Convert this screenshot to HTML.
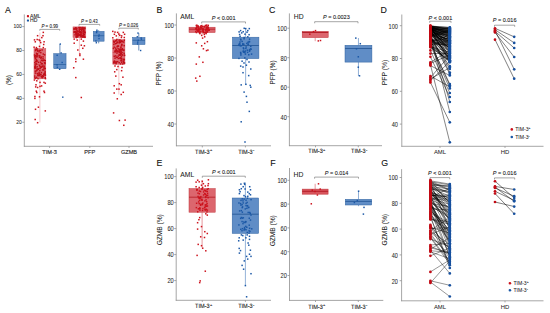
<!DOCTYPE html>
<html><head><meta charset="utf-8"><style>
html,body{margin:0;padding:0;background:#fff;}
.wrap{position:relative;width:550px;height:313px;overflow:hidden;background:#fff;}
svg{position:absolute;left:0;top:0;display:block;font-family:"Liberation Sans",sans-serif;text-rendering:geometricPrecision;}
svg.g{filter:blur(0.3px);}
svg.t{text-rendering:optimizeLegibility;}
</style></head><body><div class="wrap">
<svg class="g" width="550" height="313" viewBox="0 0 550 313">
<rect width="550" height="313" fill="#fff"/>
<line x1="24.3" y1="14.4" x2="24.3" y2="146.7" stroke="#8f8f8f" stroke-width="0.8" />
<line x1="23.9" y1="146.3" x2="153" y2="146.3" stroke="#8f8f8f" stroke-width="0.8" />
<line x1="22.3" y1="26.6" x2="24.3" y2="26.6" stroke="#8f8f8f" stroke-width="0.8" />
<line x1="22.3" y1="50.52" x2="24.3" y2="50.52" stroke="#8f8f8f" stroke-width="0.8" />
<line x1="22.3" y1="74.44" x2="24.3" y2="74.44" stroke="#8f8f8f" stroke-width="0.8" />
<line x1="22.3" y1="98.36" x2="24.3" y2="98.36" stroke="#8f8f8f" stroke-width="0.8" />
<line x1="22.3" y1="122.28" x2="24.3" y2="122.28" stroke="#8f8f8f" stroke-width="0.8" />
<line x1="49.6" y1="146.3" x2="49.6" y2="147.9" stroke="#8f8f8f" stroke-width="0.8" />
<line x1="89.8" y1="146.3" x2="89.8" y2="147.9" stroke="#8f8f8f" stroke-width="0.8" />
<line x1="129" y1="146.3" x2="129" y2="147.9" stroke="#8f8f8f" stroke-width="0.8" />
<rect x="26.9" y="15.1" width="2.1" height="2.2" rx="0.6" fill="#cc121c"/>
<rect x="26.9" y="19.4" width="2.1" height="2.2" rx="0.6" fill="#1b58a6"/>
<path d="M39.8,30.7V29.4H59.7V30.7" fill="none" stroke="#6a6a6a" stroke-width="0.6"/>
<path d="M79,25.7V24.4H99.7V25.7" fill="none" stroke="#6a6a6a" stroke-width="0.6"/>
<path d="M118.8,29.5V28.2H138.3V29.5" fill="none" stroke="#6a6a6a" stroke-width="0.6"/>
<line x1="39.9" y1="32.6" x2="39.9" y2="48.7" stroke="#eda0a4" stroke-width="0.6" />
<line x1="39.9" y1="78.8" x2="39.9" y2="122.4" stroke="#eda0a4" stroke-width="0.6" />
<rect x="34" y="48.7" width="11.8" height="30.1" fill="#dc6e76" stroke="#cc4a52" stroke-width="0.5"/>
<line x1="34" y1="64.5" x2="45.8" y2="64.5" stroke="#cc4a52" stroke-width="0.8" />
<g fill="#c0101a"><rect x="38.75" y="64.82" width="1.45" height="1.45"/><rect x="43.94" y="61.99" width="1.45" height="1.45"/><rect x="39.36" y="65.66" width="1.45" height="1.45"/><rect x="35.81" y="63.38" width="1.45" height="1.45"/><rect x="40.7" y="71.84" width="1.45" height="1.45"/><rect x="34.81" y="57.11" width="1.45" height="1.45"/><rect x="34.77" y="72.35" width="1.45" height="1.45"/><rect x="41.4" y="49.24" width="1.45" height="1.45"/><rect x="44.58" y="77.01" width="1.45" height="1.45"/><rect x="40.97" y="66.5" width="1.45" height="1.45"/><rect x="35.51" y="48.43" width="1.45" height="1.45"/><rect x="39.59" y="49.77" width="1.45" height="1.45"/><rect x="35.87" y="55.26" width="1.45" height="1.45"/><rect x="34.11" y="61.94" width="1.45" height="1.45"/><rect x="38.62" y="73.33" width="1.45" height="1.45"/><rect x="39.49" y="67.25" width="1.45" height="1.45"/><rect x="39.27" y="67.91" width="1.45" height="1.45"/><rect x="38.81" y="56.35" width="1.45" height="1.45"/><rect x="44.75" y="77.95" width="1.45" height="1.45"/><rect x="43.02" y="69.28" width="1.45" height="1.45"/><rect x="37.24" y="54.89" width="1.45" height="1.45"/><rect x="36.95" y="50.09" width="1.45" height="1.45"/><rect x="42.2" y="60.03" width="1.45" height="1.45"/><rect x="43.09" y="59.61" width="1.45" height="1.45"/><rect x="44.31" y="73.48" width="1.45" height="1.45"/><rect x="33.78" y="54.29" width="1.45" height="1.45"/><rect x="43.79" y="62.12" width="1.45" height="1.45"/><rect x="44.56" y="59.94" width="1.45" height="1.45"/><rect x="34.58" y="66.92" width="1.45" height="1.45"/><rect x="42.34" y="56.1" width="1.45" height="1.45"/><rect x="34.73" y="57.99" width="1.45" height="1.45"/><rect x="44.38" y="70.79" width="1.45" height="1.45"/><rect x="35.07" y="55.39" width="1.45" height="1.45"/><rect x="34.89" y="49.78" width="1.45" height="1.45"/><rect x="42.54" y="53.32" width="1.45" height="1.45"/><rect x="39.93" y="61.44" width="1.45" height="1.45"/><rect x="35.87" y="70.01" width="1.45" height="1.45"/><rect x="35.22" y="67.35" width="1.45" height="1.45"/><rect x="35.06" y="60.64" width="1.45" height="1.45"/><rect x="36.12" y="56.1" width="1.45" height="1.45"/><rect x="44.46" y="72.16" width="1.45" height="1.45"/><rect x="37.12" y="74.61" width="1.45" height="1.45"/><rect x="36.09" y="59.84" width="1.45" height="1.45"/><rect x="43.17" y="67.29" width="1.45" height="1.45"/><rect x="34.88" y="77.75" width="1.45" height="1.45"/><rect x="36.12" y="55.75" width="1.45" height="1.45"/><rect x="42.27" y="57.88" width="1.45" height="1.45"/><rect x="37.03" y="50.18" width="1.45" height="1.45"/><rect x="34.77" y="65.52" width="1.45" height="1.45"/><rect x="36.45" y="66.07" width="1.45" height="1.45"/><rect x="37.86" y="61.62" width="1.45" height="1.45"/><rect x="44.33" y="62.54" width="1.45" height="1.45"/><rect x="40.1" y="74.06" width="1.45" height="1.45"/><rect x="35.79" y="52.61" width="1.45" height="1.45"/><rect x="43.77" y="72.59" width="1.45" height="1.45"/><rect x="36.52" y="53.69" width="1.45" height="1.45"/><rect x="41.91" y="76.28" width="1.45" height="1.45"/><rect x="35.94" y="76.57" width="1.45" height="1.45"/><rect x="43.48" y="66.14" width="1.45" height="1.45"/><rect x="38.41" y="51.1" width="1.45" height="1.45"/><rect x="34.2" y="76.95" width="1.45" height="1.45"/><rect x="36.4" y="69.18" width="1.45" height="1.45"/><rect x="36.6" y="72.77" width="1.45" height="1.45"/><rect x="40.34" y="56.81" width="1.45" height="1.45"/><rect x="35.7" y="69.66" width="1.45" height="1.45"/><rect x="34.53" y="54.85" width="1.45" height="1.45"/><rect x="39.93" y="73.63" width="1.45" height="1.45"/><rect x="40.53" y="56.41" width="1.45" height="1.45"/><rect x="43.87" y="54.11" width="1.45" height="1.45"/><rect x="33.96" y="56.08" width="1.45" height="1.45"/><rect x="38.68" y="49.79" width="1.45" height="1.45"/><rect x="35.71" y="59.08" width="1.45" height="1.45"/><rect x="40.07" y="51.94" width="1.45" height="1.45"/><rect x="37.76" y="74.79" width="1.45" height="1.45"/><rect x="44.56" y="67.75" width="1.45" height="1.45"/><rect x="41.38" y="65.57" width="1.45" height="1.45"/><rect x="35.32" y="49.03" width="1.45" height="1.45"/><rect x="33.97" y="75.37" width="1.45" height="1.45"/><rect x="41.49" y="76.95" width="1.45" height="1.45"/><rect x="34.01" y="67.12" width="1.45" height="1.45"/><rect x="39.08" y="69.96" width="1.45" height="1.45"/><rect x="37.28" y="78.06" width="1.45" height="1.45"/><rect x="34.6" y="64.41" width="1.45" height="1.45"/><rect x="41.88" y="75.07" width="1.45" height="1.45"/><rect x="41.88" y="69.16" width="1.45" height="1.45"/><rect x="42.5" y="75.52" width="1.45" height="1.45"/><rect x="37.65" y="68.6" width="1.45" height="1.45"/><rect x="43.68" y="74.2" width="1.45" height="1.45"/><rect x="38.36" y="71.77" width="1.45" height="1.45"/><rect x="43.27" y="65.22" width="1.45" height="1.45"/><rect x="40.65" y="59.48" width="1.45" height="1.45"/><rect x="40.18" y="66.3" width="1.45" height="1.45"/><rect x="34.66" y="67.22" width="1.45" height="1.45"/><rect x="44.7" y="74.46" width="1.45" height="1.45"/><rect x="41.79" y="59.67" width="1.45" height="1.45"/><rect x="41.86" y="65.46" width="1.45" height="1.45"/><rect x="38.62" y="73.21" width="1.45" height="1.45"/><rect x="34.7" y="70.56" width="1.45" height="1.45"/><rect x="34.1" y="66.07" width="1.45" height="1.45"/><rect x="39.07" y="54.9" width="1.45" height="1.45"/><rect x="41.46" y="62.94" width="1.45" height="1.45"/><rect x="40.53" y="75.68" width="1.45" height="1.45"/><rect x="36.59" y="48.32" width="1.45" height="1.45"/><rect x="37.09" y="68.39" width="1.45" height="1.45"/><rect x="36" y="53.08" width="1.45" height="1.45"/><rect x="43.74" y="67.84" width="1.45" height="1.45"/><rect x="38.64" y="74.82" width="1.45" height="1.45"/><rect x="37.37" y="68.02" width="1.45" height="1.45"/><rect x="35.96" y="60.94" width="1.45" height="1.45"/><rect x="42.64" y="75.49" width="1.45" height="1.45"/><rect x="43.46" y="59.55" width="1.45" height="1.45"/><rect x="40.19" y="57.5" width="1.45" height="1.45"/><rect x="35.27" y="62.92" width="1.45" height="1.45"/><rect x="42.98" y="73.52" width="1.45" height="1.45"/><rect x="41.6" y="76.57" width="1.45" height="1.45"/><rect x="36.82" y="53.07" width="1.45" height="1.45"/><rect x="38.73" y="56.26" width="1.45" height="1.45"/><rect x="36.13" y="60.44" width="1.45" height="1.45"/><rect x="40.66" y="62.84" width="1.45" height="1.45"/><rect x="37.24" y="73.23" width="1.45" height="1.45"/></g>
<g fill="#cc121c"><rect x="42.55" y="31.65" width="1.5" height="1.5"/><rect x="36.85" y="34.95" width="1.5" height="1.5"/><rect x="42.25" y="34.95" width="1.5" height="1.5"/><rect x="41.05" y="36.85" width="1.5" height="1.5"/><rect x="33.75" y="39.15" width="1.5" height="1.5"/><rect x="36.45" y="38.75" width="1.5" height="1.5"/><rect x="38.35" y="39.15" width="1.5" height="1.5"/><rect x="39.15" y="39.95" width="1.5" height="1.5"/><rect x="34.55" y="41.05" width="1.5" height="1.5"/><rect x="39.95" y="41.85" width="1.5" height="1.5"/><rect x="43.35" y="41.05" width="1.5" height="1.5"/><rect x="42.95" y="43.75" width="1.5" height="1.5"/><rect x="33.35" y="46.45" width="1.5" height="1.5"/><rect x="38.75" y="45.65" width="1.5" height="1.5"/><rect x="35.65" y="46.85" width="1.5" height="1.5"/><rect x="42.55" y="46.85" width="1.5" height="1.5"/><rect x="33.65" y="79.25" width="1.5" height="1.5"/><rect x="36.05" y="80.05" width="1.5" height="1.5"/><rect x="39.25" y="81.65" width="1.5" height="1.5"/><rect x="43.25" y="81.65" width="1.5" height="1.5"/><rect x="44.55" y="82.45" width="1.5" height="1.5"/><rect x="35.25" y="84.05" width="1.5" height="1.5"/><rect x="34.95" y="86.15" width="1.5" height="1.5"/><rect x="36.85" y="86.75" width="1.5" height="1.5"/><rect x="39.25" y="85.65" width="1.5" height="1.5"/><rect x="40.85" y="85.15" width="1.5" height="1.5"/><rect x="35.55" y="90.45" width="1.5" height="1.5"/><rect x="36.05" y="91.75" width="1.5" height="1.5"/><rect x="43.25" y="90.45" width="1.5" height="1.5"/><rect x="43.75" y="91.75" width="1.5" height="1.5"/><rect x="34.15" y="95.75" width="1.5" height="1.5"/><rect x="34.15" y="97.65" width="1.5" height="1.5"/><rect x="38.75" y="96.05" width="1.5" height="1.5"/><rect x="34.75" y="108.55" width="1.5" height="1.5"/><rect x="37.65" y="106.45" width="1.5" height="1.5"/><rect x="44.55" y="110.15" width="1.5" height="1.5"/><rect x="34.45" y="118.75" width="1.5" height="1.5"/><rect x="36.85" y="121.95" width="1.5" height="1.5"/></g>
<line x1="59.9" y1="44.06" x2="59.9" y2="53.63" stroke="#2f62a0" stroke-width="0.7" />
<line x1="59.9" y1="68.7" x2="59.9" y2="69.66" stroke="#2f62a0" stroke-width="0.7" />
<rect x="53.75" y="53.63" width="12.3" height="15.07" fill="#608dc6" fill-opacity="1.0" stroke="#2f62a0" stroke-width="0.5"/>
<line x1="53.75" y1="64.51" x2="66.05" y2="64.51" stroke="#2f62a0" stroke-width="0.8" />
<g fill="#1b58a6" fill-opacity="1.0"><rect x="62.09" y="96.46" width="1.4" height="1.4"/><rect x="58.91" y="68.6" width="1.4" height="1.4"/><rect x="56.65" y="66.56" width="1.4" height="1.4"/><rect x="56.39" y="64.17" width="1.4" height="1.4"/><rect x="61.44" y="61.78" width="1.4" height="1.4"/><rect x="56.45" y="54.6" width="1.4" height="1.4"/><rect x="60.45" y="52.21" width="1.4" height="1.4"/><rect x="59.62" y="43.36" width="1.4" height="1.4"/></g>
<line x1="79.4" y1="37.6" x2="79.4" y2="55.5" stroke="#eda0a4" stroke-width="0.6" />
<rect x="73" y="26.9" width="12.8" height="10.7" fill="#dc6e76" stroke="#cc4a52" stroke-width="0.5"/>
<line x1="73" y1="31.5" x2="85.8" y2="31.5" stroke="#cc4a52" stroke-width="0.8" />
<g fill="#c0101a"><rect x="76.64" y="34.73" width="1.45" height="1.45"/><rect x="73.39" y="27.97" width="1.45" height="1.45"/><rect x="78.27" y="26.83" width="1.45" height="1.45"/><rect x="82.47" y="29.02" width="1.45" height="1.45"/><rect x="74.75" y="27.06" width="1.45" height="1.45"/><rect x="80.22" y="31.17" width="1.45" height="1.45"/><rect x="80.23" y="33.32" width="1.45" height="1.45"/><rect x="82.22" y="36.45" width="1.45" height="1.45"/><rect x="80.84" y="28.63" width="1.45" height="1.45"/><rect x="78.5" y="28.42" width="1.45" height="1.45"/><rect x="73.3" y="31.44" width="1.45" height="1.45"/><rect x="81.17" y="28.42" width="1.45" height="1.45"/><rect x="76.23" y="30.14" width="1.45" height="1.45"/><rect x="80.98" y="31.94" width="1.45" height="1.45"/><rect x="80.06" y="34.36" width="1.45" height="1.45"/><rect x="77.58" y="34.73" width="1.45" height="1.45"/><rect x="83.32" y="27.47" width="1.45" height="1.45"/><rect x="83.62" y="34.02" width="1.45" height="1.45"/><rect x="74.63" y="31.25" width="1.45" height="1.45"/><rect x="80.18" y="35.95" width="1.45" height="1.45"/><rect x="77.4" y="32.43" width="1.45" height="1.45"/><rect x="83.02" y="34.78" width="1.45" height="1.45"/><rect x="83.75" y="31.35" width="1.45" height="1.45"/><rect x="80.47" y="28.69" width="1.45" height="1.45"/><rect x="81.26" y="35" width="1.45" height="1.45"/><rect x="80.36" y="33.97" width="1.45" height="1.45"/><rect x="75.56" y="35.84" width="1.45" height="1.45"/><rect x="84.16" y="36.64" width="1.45" height="1.45"/><rect x="79.19" y="34.72" width="1.45" height="1.45"/><rect x="76.76" y="35.95" width="1.45" height="1.45"/><rect x="82.76" y="30.16" width="1.45" height="1.45"/><rect x="74.1" y="31.12" width="1.45" height="1.45"/><rect x="79.34" y="34.49" width="1.45" height="1.45"/><rect x="78.63" y="26.87" width="1.45" height="1.45"/><rect x="82.24" y="27.23" width="1.45" height="1.45"/><rect x="82.13" y="28.36" width="1.45" height="1.45"/><rect x="76.93" y="34.69" width="1.45" height="1.45"/><rect x="74.75" y="28.11" width="1.45" height="1.45"/><rect x="78.96" y="34.03" width="1.45" height="1.45"/><rect x="82.58" y="33.68" width="1.45" height="1.45"/><rect x="83.77" y="31.65" width="1.45" height="1.45"/><rect x="83.81" y="27.46" width="1.45" height="1.45"/><rect x="75.65" y="32" width="1.45" height="1.45"/><rect x="76.42" y="34.08" width="1.45" height="1.45"/><rect x="80.33" y="31.96" width="1.45" height="1.45"/><rect x="82.62" y="32.34" width="1.45" height="1.45"/><rect x="76.67" y="30.5" width="1.45" height="1.45"/><rect x="82.64" y="35.85" width="1.45" height="1.45"/><rect x="75.51" y="35.34" width="1.45" height="1.45"/><rect x="84.02" y="31.97" width="1.45" height="1.45"/><rect x="79.59" y="28.64" width="1.45" height="1.45"/><rect x="79.18" y="31.76" width="1.45" height="1.45"/><rect x="79.95" y="26.86" width="1.45" height="1.45"/><rect x="84.03" y="31.89" width="1.45" height="1.45"/><rect x="77.66" y="34.83" width="1.45" height="1.45"/><rect x="79.48" y="31.63" width="1.45" height="1.45"/><rect x="80.91" y="27.25" width="1.45" height="1.45"/><rect x="79.21" y="30.84" width="1.45" height="1.45"/><rect x="83.89" y="36.09" width="1.45" height="1.45"/><rect x="76.19" y="31.45" width="1.45" height="1.45"/><rect x="74.6" y="31.04" width="1.45" height="1.45"/><rect x="82.31" y="35.85" width="1.45" height="1.45"/><rect x="78.51" y="29.84" width="1.45" height="1.45"/><rect x="75.32" y="32.94" width="1.45" height="1.45"/><rect x="83.54" y="27.91" width="1.45" height="1.45"/><rect x="81.9" y="26.81" width="1.45" height="1.45"/><rect x="75.35" y="28.92" width="1.45" height="1.45"/><rect x="80.87" y="29.89" width="1.45" height="1.45"/><rect x="77.15" y="32.96" width="1.45" height="1.45"/><rect x="74.35" y="34.1" width="1.45" height="1.45"/><rect x="74.55" y="31.83" width="1.45" height="1.45"/><rect x="75.98" y="28.61" width="1.45" height="1.45"/><rect x="79.11" y="31.07" width="1.45" height="1.45"/><rect x="77.38" y="30.83" width="1.45" height="1.45"/><rect x="79.1" y="28.22" width="1.45" height="1.45"/><rect x="75.46" y="33.08" width="1.45" height="1.45"/><rect x="80.33" y="32.03" width="1.45" height="1.45"/><rect x="82.71" y="32.88" width="1.45" height="1.45"/><rect x="82.77" y="28.97" width="1.45" height="1.45"/><rect x="81.47" y="34.92" width="1.45" height="1.45"/><rect x="83.28" y="29.83" width="1.45" height="1.45"/><rect x="76.7" y="36.08" width="1.45" height="1.45"/><rect x="75.62" y="36.86" width="1.45" height="1.45"/><rect x="83.12" y="27.95" width="1.45" height="1.45"/><rect x="75.86" y="34.06" width="1.45" height="1.45"/><rect x="76.08" y="27.57" width="1.45" height="1.45"/><rect x="82.5" y="30.92" width="1.45" height="1.45"/><rect x="82.02" y="27.87" width="1.45" height="1.45"/><rect x="77.69" y="33.63" width="1.45" height="1.45"/><rect x="73.37" y="28.64" width="1.45" height="1.45"/><rect x="80.82" y="35.96" width="1.45" height="1.45"/><rect x="84.02" y="27.76" width="1.45" height="1.45"/><rect x="78.84" y="34.38" width="1.45" height="1.45"/><rect x="78.81" y="33.64" width="1.45" height="1.45"/><rect x="75.29" y="27.3" width="1.45" height="1.45"/></g>
<g fill="#cc121c"><rect x="73.45" y="38.35" width="1.5" height="1.5"/><rect x="76.45" y="39.35" width="1.5" height="1.5"/><rect x="80.55" y="38.35" width="1.5" height="1.5"/><rect x="82.65" y="40.35" width="1.5" height="1.5"/><rect x="73.45" y="42.45" width="1.5" height="1.5"/><rect x="80.55" y="44.45" width="1.5" height="1.5"/><rect x="83.65" y="45.05" width="1.5" height="1.5"/><rect x="82.05" y="47.55" width="1.5" height="1.5"/><rect x="77.05" y="49.25" width="1.5" height="1.5"/><rect x="79.15" y="53.25" width="1.5" height="1.5"/><rect x="79.15" y="54.75" width="1.5" height="1.5"/><rect x="75.05" y="58.25" width="1.5" height="1.5"/><rect x="75.05" y="60.85" width="1.5" height="1.5"/><rect x="82.65" y="58.45" width="1.5" height="1.5"/><rect x="72.95" y="67.05" width="1.5" height="1.5"/><rect x="75.05" y="76.85" width="1.5" height="1.5"/><rect x="80.55" y="96.75" width="1.5" height="1.5"/></g>
<line x1="98.7" y1="30.19" x2="98.7" y2="31.38" stroke="#2f62a0" stroke-width="0.7" />
<line x1="98.7" y1="41.19" x2="98.7" y2="43.34" stroke="#2f62a0" stroke-width="0.7" />
<rect x="93.3" y="31.38" width="10.8" height="9.81" fill="#608dc6" fill-opacity="1.0" stroke="#2f62a0" stroke-width="0.5"/>
<line x1="93.3" y1="35.69" x2="104.1" y2="35.69" stroke="#2f62a0" stroke-width="0.8" />
<g fill="#1b58a6" fill-opacity="1.0"><rect x="95.64" y="42.05" width="1.4" height="1.4"/><rect x="95.22" y="40.25" width="1.4" height="1.4"/><rect x="98.31" y="37.86" width="1.4" height="1.4"/><rect x="98.09" y="35.47" width="1.4" height="1.4"/><rect x="98.41" y="34.27" width="1.4" height="1.4"/><rect x="95.88" y="31.88" width="1.4" height="1.4"/><rect x="96.11" y="30.68" width="1.4" height="1.4"/><rect x="96.22" y="29.49" width="1.4" height="1.4"/></g>
<line x1="118.85" y1="31.4" x2="118.85" y2="39.7" stroke="#eda0a4" stroke-width="0.6" />
<line x1="118.85" y1="64.2" x2="118.85" y2="94.5" stroke="#eda0a4" stroke-width="0.6" />
<rect x="112.8" y="39.7" width="12.1" height="24.5" fill="#dc6e76" stroke="#cc4a52" stroke-width="0.5"/>
<line x1="112.8" y1="52.5" x2="124.9" y2="52.5" stroke="#cc4a52" stroke-width="0.8" />
<g fill="#c0101a"><rect x="121.99" y="63.24" width="1.45" height="1.45"/><rect x="122.96" y="41.31" width="1.45" height="1.45"/><rect x="113.27" y="62.29" width="1.45" height="1.45"/><rect x="117.75" y="57.71" width="1.45" height="1.45"/><rect x="116.24" y="50.42" width="1.45" height="1.45"/><rect x="118.35" y="49.51" width="1.45" height="1.45"/><rect x="119.31" y="39.3" width="1.45" height="1.45"/><rect x="120.43" y="59.66" width="1.45" height="1.45"/><rect x="114.61" y="50.1" width="1.45" height="1.45"/><rect x="120.86" y="48.9" width="1.45" height="1.45"/><rect x="114.76" y="43.02" width="1.45" height="1.45"/><rect x="118.32" y="39.35" width="1.45" height="1.45"/><rect x="122.58" y="58.62" width="1.45" height="1.45"/><rect x="120.47" y="60.06" width="1.45" height="1.45"/><rect x="119.62" y="48.89" width="1.45" height="1.45"/><rect x="119.29" y="51.33" width="1.45" height="1.45"/><rect x="123.58" y="58.69" width="1.45" height="1.45"/><rect x="115.47" y="61.3" width="1.45" height="1.45"/><rect x="120.91" y="58.04" width="1.45" height="1.45"/><rect x="121.7" y="48.91" width="1.45" height="1.45"/><rect x="122.62" y="60.53" width="1.45" height="1.45"/><rect x="120.36" y="57.77" width="1.45" height="1.45"/><rect x="121.15" y="48.92" width="1.45" height="1.45"/><rect x="120.67" y="40.7" width="1.45" height="1.45"/><rect x="116.4" y="50.46" width="1.45" height="1.45"/><rect x="112.69" y="47.69" width="1.45" height="1.45"/><rect x="119.73" y="54.26" width="1.45" height="1.45"/><rect x="115.17" y="62.12" width="1.45" height="1.45"/><rect x="120.04" y="47.25" width="1.45" height="1.45"/><rect x="119.96" y="52.93" width="1.45" height="1.45"/><rect x="118.55" y="48.52" width="1.45" height="1.45"/><rect x="123.77" y="54.71" width="1.45" height="1.45"/><rect x="120.43" y="57.64" width="1.45" height="1.45"/><rect x="123.55" y="39.53" width="1.45" height="1.45"/><rect x="119.47" y="57.08" width="1.45" height="1.45"/><rect x="115.45" y="48.81" width="1.45" height="1.45"/><rect x="113.14" y="43.76" width="1.45" height="1.45"/><rect x="116.78" y="41.39" width="1.45" height="1.45"/><rect x="115.38" y="61.16" width="1.45" height="1.45"/><rect x="118.74" y="51.42" width="1.45" height="1.45"/><rect x="123.41" y="52.89" width="1.45" height="1.45"/><rect x="123.72" y="54.61" width="1.45" height="1.45"/><rect x="121.64" y="40.84" width="1.45" height="1.45"/><rect x="119.27" y="57.58" width="1.45" height="1.45"/><rect x="113.08" y="61.76" width="1.45" height="1.45"/><rect x="114.37" y="50.53" width="1.45" height="1.45"/><rect x="114.47" y="51.12" width="1.45" height="1.45"/><rect x="119.42" y="40.41" width="1.45" height="1.45"/><rect x="123.16" y="49.28" width="1.45" height="1.45"/><rect x="118.47" y="53.62" width="1.45" height="1.45"/><rect x="116.67" y="45.98" width="1.45" height="1.45"/><rect x="119.91" y="52.71" width="1.45" height="1.45"/><rect x="115.75" y="56.53" width="1.45" height="1.45"/><rect x="115.89" y="39.32" width="1.45" height="1.45"/><rect x="115.32" y="40.02" width="1.45" height="1.45"/><rect x="114.33" y="57.46" width="1.45" height="1.45"/><rect x="116.94" y="60.96" width="1.45" height="1.45"/><rect x="120.96" y="40.2" width="1.45" height="1.45"/><rect x="123.65" y="62.11" width="1.45" height="1.45"/><rect x="113.4" y="61.16" width="1.45" height="1.45"/><rect x="117.39" y="50.68" width="1.45" height="1.45"/><rect x="123.47" y="44.95" width="1.45" height="1.45"/><rect x="118.44" y="61.94" width="1.45" height="1.45"/><rect x="120.67" y="50.45" width="1.45" height="1.45"/><rect x="123.54" y="58.98" width="1.45" height="1.45"/><rect x="119.34" y="41.79" width="1.45" height="1.45"/><rect x="119.57" y="50.14" width="1.45" height="1.45"/><rect x="114.86" y="40.25" width="1.45" height="1.45"/><rect x="118.49" y="42.02" width="1.45" height="1.45"/><rect x="117.54" y="55.34" width="1.45" height="1.45"/><rect x="117.68" y="45.4" width="1.45" height="1.45"/><rect x="119.1" y="49.25" width="1.45" height="1.45"/><rect x="121.29" y="51.98" width="1.45" height="1.45"/><rect x="123.75" y="62.31" width="1.45" height="1.45"/><rect x="120.8" y="44.82" width="1.45" height="1.45"/><rect x="113.85" y="60.85" width="1.45" height="1.45"/><rect x="121.36" y="54.29" width="1.45" height="1.45"/><rect x="116.6" y="45.63" width="1.45" height="1.45"/><rect x="120.25" y="52.81" width="1.45" height="1.45"/><rect x="119.2" y="54.49" width="1.45" height="1.45"/><rect x="121.01" y="43.63" width="1.45" height="1.45"/><rect x="115.36" y="62.98" width="1.45" height="1.45"/><rect x="122.83" y="60.51" width="1.45" height="1.45"/><rect x="113.02" y="40.46" width="1.45" height="1.45"/><rect x="115.61" y="49.39" width="1.45" height="1.45"/><rect x="119.56" y="41.49" width="1.45" height="1.45"/><rect x="118.64" y="40.75" width="1.45" height="1.45"/><rect x="113.54" y="55.54" width="1.45" height="1.45"/><rect x="118.74" y="54.44" width="1.45" height="1.45"/><rect x="116.75" y="50.7" width="1.45" height="1.45"/><rect x="114.93" y="47.4" width="1.45" height="1.45"/><rect x="120.92" y="59.52" width="1.45" height="1.45"/><rect x="113.41" y="41.91" width="1.45" height="1.45"/><rect x="121.64" y="54.26" width="1.45" height="1.45"/><rect x="121.19" y="44.2" width="1.45" height="1.45"/><rect x="117.33" y="45.3" width="1.45" height="1.45"/><rect x="121.65" y="48.01" width="1.45" height="1.45"/><rect x="119.9" y="63.21" width="1.45" height="1.45"/><rect x="116.22" y="52.42" width="1.45" height="1.45"/><rect x="120.93" y="61.54" width="1.45" height="1.45"/><rect x="117.36" y="48.02" width="1.45" height="1.45"/><rect x="113.66" y="60.42" width="1.45" height="1.45"/><rect x="113.45" y="41.01" width="1.45" height="1.45"/><rect x="118.89" y="50.85" width="1.45" height="1.45"/><rect x="120.25" y="46.3" width="1.45" height="1.45"/><rect x="121.26" y="40.84" width="1.45" height="1.45"/><rect x="114.96" y="55.2" width="1.45" height="1.45"/><rect x="113.49" y="46.42" width="1.45" height="1.45"/><rect x="120.69" y="55.98" width="1.45" height="1.45"/><rect x="115.74" y="42.48" width="1.45" height="1.45"/><rect x="116.58" y="56.76" width="1.45" height="1.45"/><rect x="116.68" y="41.85" width="1.45" height="1.45"/><rect x="120.52" y="52.92" width="1.45" height="1.45"/><rect x="122.86" y="62" width="1.45" height="1.45"/><rect x="122.8" y="49.71" width="1.45" height="1.45"/></g>
<g fill="#cc121c"><rect x="112.05" y="30.65" width="1.5" height="1.5"/><rect x="114.25" y="31.35" width="1.5" height="1.5"/><rect x="116.85" y="31.65" width="1.5" height="1.5"/><rect x="122.55" y="31.65" width="1.5" height="1.5"/><rect x="113.65" y="33.55" width="1.5" height="1.5"/><rect x="118.05" y="33.25" width="1.5" height="1.5"/><rect x="123.85" y="33.55" width="1.5" height="1.5"/><rect x="115.55" y="35.15" width="1.5" height="1.5"/><rect x="119.05" y="34.55" width="1.5" height="1.5"/><rect x="120.95" y="35.15" width="1.5" height="1.5"/><rect x="112.05" y="37.05" width="1.5" height="1.5"/><rect x="120.65" y="36.75" width="1.5" height="1.5"/><rect x="123.55" y="36.75" width="1.5" height="1.5"/><rect x="116.15" y="38.65" width="1.5" height="1.5"/><rect x="113.95" y="71.05" width="1.5" height="1.5"/><rect x="116.05" y="68.85" width="1.5" height="1.5"/><rect x="120.85" y="69.95" width="1.5" height="1.5"/><rect x="115.05" y="75.35" width="1.5" height="1.5"/><rect x="122.15" y="76.45" width="1.5" height="1.5"/><rect x="118.65" y="82.95" width="1.5" height="1.5"/><rect x="120.45" y="84.05" width="1.5" height="1.5"/><rect x="113.45" y="85.05" width="1.5" height="1.5"/><rect x="116.05" y="88.35" width="1.5" height="1.5"/><rect x="118.25" y="88.35" width="1.5" height="1.5"/><rect x="122.55" y="91.55" width="1.5" height="1.5"/><rect x="113.45" y="92.25" width="1.5" height="1.5"/><rect x="120.45" y="93.75" width="1.5" height="1.5"/><rect x="116.55" y="98.05" width="1.5" height="1.5"/><rect x="112.85" y="112.15" width="1.5" height="1.5"/><rect x="118.65" y="119.75" width="1.5" height="1.5"/><rect x="124.35" y="119.35" width="1.5" height="1.5"/><rect x="123.05" y="124.55" width="1.5" height="1.5"/><rect x="117.25" y="65.75" width="1.5" height="1.5"/><rect x="121.25" y="66.75" width="1.5" height="1.5"/><rect x="114.25" y="65.25" width="1.5" height="1.5"/></g>
<line x1="138.8" y1="33.06" x2="138.8" y2="37.48" stroke="#2f62a0" stroke-width="0.7" />
<line x1="138.8" y1="44.54" x2="138.8" y2="50.52" stroke="#2f62a0" stroke-width="0.7" />
<rect x="132.6" y="37.48" width="12.4" height="7.06" fill="#608dc6" fill-opacity="1.0" stroke="#2f62a0" stroke-width="0.5"/>
<line x1="132.6" y1="40.35" x2="145" y2="40.35" stroke="#2f62a0" stroke-width="0.8" />
<g fill="#1b58a6" fill-opacity="1.0"><rect x="139.92" y="49.82" width="1.4" height="1.4"/><rect x="136.93" y="43.24" width="1.4" height="1.4"/><rect x="137.01" y="41.45" width="1.4" height="1.4"/><rect x="137.5" y="39.65" width="1.4" height="1.4"/><rect x="140.71" y="38.46" width="1.4" height="1.4"/><rect x="140.47" y="37.26" width="1.4" height="1.4"/><rect x="136.59" y="36.07" width="1.4" height="1.4"/><rect x="137.27" y="32.36" width="1.4" height="1.4"/></g>
<line x1="176.4" y1="13.4" x2="176.4" y2="146.2" stroke="#8f8f8f" stroke-width="0.8" />
<line x1="176" y1="145.8" x2="271" y2="145.8" stroke="#8f8f8f" stroke-width="0.8" />
<line x1="174.4" y1="25" x2="176.4" y2="25" stroke="#8f8f8f" stroke-width="0.8" />
<line x1="174.4" y1="58" x2="176.4" y2="58" stroke="#8f8f8f" stroke-width="0.8" />
<line x1="174.4" y1="91" x2="176.4" y2="91" stroke="#8f8f8f" stroke-width="0.8" />
<line x1="174.4" y1="124" x2="176.4" y2="124" stroke="#8f8f8f" stroke-width="0.8" />
<line x1="202.3" y1="145.8" x2="202.3" y2="147.4" stroke="#8f8f8f" stroke-width="0.8" />
<line x1="245.4" y1="145.8" x2="245.4" y2="147.4" stroke="#8f8f8f" stroke-width="0.8" />
<path d="M201.7,23.5V21.9H245.5V23.5" fill="none" stroke="#6a6a6a" stroke-width="0.6"/>
<line x1="202.05" y1="24.5" x2="202.05" y2="27.2" stroke="#d4505a" stroke-width="0.6" />
<line x1="202.05" y1="32.5" x2="202.05" y2="34.5" stroke="#d4505a" stroke-width="0.6" />
<rect x="189" y="27.2" width="26.1" height="5.3" fill="#dc666e" stroke="#c0343a" stroke-width="0.5"/>
<line x1="189" y1="29.2" x2="215.1" y2="29.2" stroke="#b8202a" stroke-width="0.9" />
<g fill="#cc121c"><rect x="200.02" y="26.9" width="1.5" height="1.5"/><rect x="200.43" y="27.11" width="1.5" height="1.5"/><rect x="197.7" y="28.59" width="1.5" height="1.5"/><rect x="205.89" y="28.39" width="1.5" height="1.5"/><rect x="206.42" y="28.58" width="1.5" height="1.5"/><rect x="197.45" y="30.23" width="1.5" height="1.5"/><rect x="207.03" y="26.21" width="1.5" height="1.5"/><rect x="195.35" y="28.18" width="1.5" height="1.5"/><rect x="202.45" y="28.62" width="1.5" height="1.5"/><rect x="208.19" y="29.32" width="1.5" height="1.5"/><rect x="205.99" y="24.39" width="1.5" height="1.5"/><rect x="202.49" y="30.47" width="1.5" height="1.5"/><rect x="196.19" y="24.54" width="1.5" height="1.5"/><rect x="205.07" y="31.4" width="1.5" height="1.5"/><rect x="196.2" y="29.18" width="1.5" height="1.5"/><rect x="197.01" y="30.11" width="1.5" height="1.5"/><rect x="203.88" y="25.91" width="1.5" height="1.5"/><rect x="198.05" y="30.28" width="1.5" height="1.5"/><rect x="202.14" y="30.27" width="1.5" height="1.5"/><rect x="200.41" y="26.69" width="1.5" height="1.5"/><rect x="208.22" y="29.5" width="1.5" height="1.5"/><rect x="201.76" y="28.36" width="1.5" height="1.5"/><rect x="204.85" y="29.8" width="1.5" height="1.5"/><rect x="207.49" y="27.3" width="1.5" height="1.5"/><rect x="206.29" y="29.45" width="1.5" height="1.5"/><rect x="206.66" y="30.62" width="1.5" height="1.5"/><rect x="206.39" y="31.31" width="1.5" height="1.5"/><rect x="208.08" y="29.23" width="1.5" height="1.5"/><rect x="202.17" y="29.81" width="1.5" height="1.5"/><rect x="205.96" y="27.39" width="1.5" height="1.5"/><rect x="200.77" y="25.08" width="1.5" height="1.5"/><rect x="205.13" y="32.17" width="1.5" height="1.5"/><rect x="200.16" y="25.26" width="1.5" height="1.5"/><rect x="197.83" y="27.42" width="1.5" height="1.5"/><rect x="199.02" y="32" width="1.5" height="1.5"/><rect x="195.86" y="26.44" width="1.5" height="1.5"/><rect x="196.61" y="29.29" width="1.5" height="1.5"/><rect x="205.6" y="25.36" width="1.5" height="1.5"/><rect x="195.9" y="27.7" width="1.5" height="1.5"/><rect x="202.99" y="31.49" width="1.5" height="1.5"/><rect x="195.54" y="24.76" width="1.5" height="1.5"/><rect x="197.56" y="25.68" width="1.5" height="1.5"/><rect x="198.25" y="29.87" width="1.5" height="1.5"/><rect x="203.14" y="25.73" width="1.5" height="1.5"/><rect x="197.57" y="26.21" width="1.5" height="1.5"/><rect x="197.4" y="30.21" width="1.5" height="1.5"/><rect x="199.29" y="28.46" width="1.5" height="1.5"/><rect x="206.16" y="27.88" width="1.5" height="1.5"/><rect x="198.59" y="31.3" width="1.5" height="1.5"/><rect x="207.48" y="26.72" width="1.5" height="1.5"/><rect x="202.49" y="31.89" width="1.5" height="1.5"/><rect x="201.61" y="25.71" width="1.5" height="1.5"/><rect x="195.73" y="31.81" width="1.5" height="1.5"/><rect x="205.95" y="27.08" width="1.5" height="1.5"/><rect x="202.23" y="28.18" width="1.5" height="1.5"/><rect x="198.78" y="32.17" width="1.5" height="1.5"/><rect x="203.99" y="25.85" width="1.5" height="1.5"/><rect x="195.2" y="27.82" width="1.5" height="1.5"/><rect x="200.1" y="30.54" width="1.5" height="1.5"/><rect x="204.75" y="28.94" width="1.5" height="1.5"/><rect x="197.19" y="25.17" width="1.5" height="1.5"/><rect x="199.43" y="26.03" width="1.5" height="1.5"/><rect x="206.87" y="28.19" width="1.5" height="1.5"/><rect x="203.71" y="32.19" width="1.5" height="1.5"/><rect x="198.67" y="28.34" width="1.5" height="1.5"/><rect x="197.1" y="30.32" width="1.5" height="1.5"/><rect x="195.07" y="30.75" width="1.5" height="1.5"/><rect x="206.56" y="30.76" width="1.5" height="1.5"/><rect x="196.17" y="26.12" width="1.5" height="1.5"/><rect x="204.79" y="24.67" width="1.5" height="1.5"/><rect x="201.58" y="27.79" width="1.5" height="1.5"/><rect x="208.04" y="28.78" width="1.5" height="1.5"/><rect x="206.71" y="26.4" width="1.5" height="1.5"/><rect x="205.78" y="27.35" width="1.5" height="1.5"/><rect x="207.52" y="24.61" width="1.5" height="1.5"/></g>
<g fill="#cc121c"><rect x="199.15" y="32.85" width="1.5" height="1.5"/><rect x="200.95" y="34.65" width="1.5" height="1.5"/><rect x="203.55" y="33.75" width="1.5" height="1.5"/><rect x="205.35" y="32.85" width="1.5" height="1.5"/><rect x="201.85" y="37.35" width="1.5" height="1.5"/><rect x="203.95" y="36.05" width="1.5" height="1.5"/><rect x="195.55" y="42.15" width="1.5" height="1.5"/><rect x="200.95" y="45.05" width="1.5" height="1.5"/><rect x="203.95" y="42.65" width="1.5" height="1.5"/><rect x="206.65" y="40.95" width="1.5" height="1.5"/><rect x="202.65" y="48.05" width="1.5" height="1.5"/><rect x="205.75" y="49.85" width="1.5" height="1.5"/><rect x="207.15" y="49.35" width="1.5" height="1.5"/><rect x="198.55" y="56.15" width="1.5" height="1.5"/><rect x="195.55" y="63.35" width="1.5" height="1.5"/><rect x="202.15" y="61.55" width="1.5" height="1.5"/><rect x="194.95" y="77.35" width="1.5" height="1.5"/><rect x="199.15" y="75.55" width="1.5" height="1.5"/><rect x="196.05" y="80.35" width="1.5" height="1.5"/></g>
<line x1="245.65" y1="28" x2="245.65" y2="37.2" stroke="#4a7cbc" stroke-width="0.6" />
<line x1="245.65" y1="58.6" x2="245.65" y2="84.9" stroke="#4a7cbc" stroke-width="0.6" />
<rect x="232.4" y="37.2" width="26.5" height="21.4" fill="#608dc6" stroke="#2f62a0" stroke-width="0.5"/>
<line x1="232.4" y1="45.5" x2="258.9" y2="45.5" stroke="#285a98" stroke-width="0.9" />
<g fill="#1b58a6"><rect x="248.79" y="40.91" width="1.5" height="1.5"/><rect x="245.11" y="47.7" width="1.5" height="1.5"/><rect x="240.1" y="54.25" width="1.5" height="1.5"/><rect x="242.1" y="43.1" width="1.5" height="1.5"/><rect x="239.04" y="42.99" width="1.5" height="1.5"/><rect x="244.12" y="51.75" width="1.5" height="1.5"/><rect x="242.73" y="51.15" width="1.5" height="1.5"/><rect x="239.42" y="44.89" width="1.5" height="1.5"/><rect x="244.05" y="57.14" width="1.5" height="1.5"/><rect x="248.84" y="50.44" width="1.5" height="1.5"/><rect x="238.21" y="44.52" width="1.5" height="1.5"/><rect x="247.28" y="41.53" width="1.5" height="1.5"/><rect x="245.38" y="46.25" width="1.5" height="1.5"/><rect x="238.19" y="57.67" width="1.5" height="1.5"/><rect x="248.44" y="40.87" width="1.5" height="1.5"/><rect x="246.06" y="42.66" width="1.5" height="1.5"/><rect x="242.94" y="48" width="1.5" height="1.5"/><rect x="241.93" y="43.67" width="1.5" height="1.5"/><rect x="243.15" y="50.72" width="1.5" height="1.5"/><rect x="241.38" y="40.73" width="1.5" height="1.5"/><rect x="247.56" y="43.5" width="1.5" height="1.5"/><rect x="250.34" y="48.49" width="1.5" height="1.5"/><rect x="247.46" y="43.55" width="1.5" height="1.5"/><rect x="248.8" y="38.42" width="1.5" height="1.5"/><rect x="239.88" y="38.47" width="1.5" height="1.5"/><rect x="246.86" y="51.61" width="1.5" height="1.5"/><rect x="240.39" y="45.06" width="1.5" height="1.5"/><rect x="248.93" y="49.13" width="1.5" height="1.5"/><rect x="239.22" y="41.3" width="1.5" height="1.5"/><rect x="240.09" y="39.11" width="1.5" height="1.5"/><rect x="243.34" y="38.01" width="1.5" height="1.5"/><rect x="250.02" y="45.59" width="1.5" height="1.5"/><rect x="244.7" y="50.3" width="1.5" height="1.5"/><rect x="248.02" y="54.02" width="1.5" height="1.5"/><rect x="243.07" y="43.54" width="1.5" height="1.5"/><rect x="243.41" y="36.78" width="1.5" height="1.5"/><rect x="243.26" y="51.43" width="1.5" height="1.5"/><rect x="250.82" y="53.35" width="1.5" height="1.5"/><rect x="246.63" y="49.47" width="1.5" height="1.5"/><rect x="238.29" y="43.53" width="1.5" height="1.5"/><rect x="242.5" y="50.38" width="1.5" height="1.5"/><rect x="239.43" y="44.53" width="1.5" height="1.5"/><rect x="244.67" y="53.33" width="1.5" height="1.5"/><rect x="248.78" y="49.53" width="1.5" height="1.5"/><rect x="240.11" y="52.85" width="1.5" height="1.5"/><rect x="249.79" y="48.18" width="1.5" height="1.5"/><rect x="242.63" y="47.16" width="1.5" height="1.5"/><rect x="239.89" y="51.72" width="1.5" height="1.5"/></g>
<g fill="#1b58a6"><rect x="243.45" y="27.55" width="1.5" height="1.5"/><rect x="244.95" y="27.85" width="1.5" height="1.5"/><rect x="248.55" y="27.85" width="1.5" height="1.5"/><rect x="247.05" y="29.85" width="1.5" height="1.5"/><rect x="239.85" y="29.85" width="1.5" height="1.5"/><rect x="238.35" y="31.15" width="1.5" height="1.5"/><rect x="242.45" y="30.95" width="1.5" height="1.5"/><rect x="240.95" y="32.15" width="1.5" height="1.5"/><rect x="246.25" y="31.45" width="1.5" height="1.5"/><rect x="238.85" y="33.75" width="1.5" height="1.5"/><rect x="248.35" y="33.95" width="1.5" height="1.5"/><rect x="239.35" y="35.55" width="1.5" height="1.5"/><rect x="244.25" y="33.45" width="1.5" height="1.5"/><rect x="247.05" y="36.05" width="1.5" height="1.5"/><rect x="241.35" y="60.45" width="1.5" height="1.5"/><rect x="239.95" y="65.35" width="1.5" height="1.5"/><rect x="242.25" y="66.25" width="1.5" height="1.5"/><rect x="245.65" y="64.45" width="1.5" height="1.5"/><rect x="250.05" y="68.25" width="1.5" height="1.5"/><rect x="242.25" y="71.95" width="1.5" height="1.5"/><rect x="247.95" y="74.85" width="1.5" height="1.5"/><rect x="240.45" y="84.15" width="1.5" height="1.5"/><rect x="245.15" y="83.55" width="1.5" height="1.5"/><rect x="249.45" y="84.65" width="1.5" height="1.5"/><rect x="250.05" y="86.45" width="1.5" height="1.5"/><rect x="243.35" y="91.35" width="1.5" height="1.5"/><rect x="245.65" y="95.65" width="1.5" height="1.5"/><rect x="246.25" y="101.45" width="1.5" height="1.5"/><rect x="248.55" y="110.65" width="1.5" height="1.5"/><rect x="240.45" y="121.05" width="1.5" height="1.5"/><rect x="244.25" y="141.25" width="1.5" height="1.5"/><rect x="246.25" y="58.75" width="1.5" height="1.5"/><rect x="243.25" y="62.25" width="1.5" height="1.5"/><rect x="248.25" y="61.25" width="1.5" height="1.5"/></g>
<line x1="289.4" y1="13.4" x2="289.4" y2="146.1" stroke="#8f8f8f" stroke-width="0.8" />
<line x1="289" y1="145.7" x2="382" y2="145.7" stroke="#8f8f8f" stroke-width="0.8" />
<line x1="287.4" y1="28.2" x2="289.4" y2="28.2" stroke="#8f8f8f" stroke-width="0.8" />
<line x1="287.4" y1="57.7" x2="289.4" y2="57.7" stroke="#8f8f8f" stroke-width="0.8" />
<line x1="287.4" y1="87.2" x2="289.4" y2="87.2" stroke="#8f8f8f" stroke-width="0.8" />
<line x1="287.4" y1="116.7" x2="289.4" y2="116.7" stroke="#8f8f8f" stroke-width="0.8" />
<line x1="315.5" y1="145.7" x2="315.5" y2="147.3" stroke="#8f8f8f" stroke-width="0.8" />
<line x1="358.3" y1="145.7" x2="358.3" y2="147.3" stroke="#8f8f8f" stroke-width="0.8" />
<path d="M314.7,23.3V21.7H358V23.3" fill="none" stroke="#6a6a6a" stroke-width="0.6"/>
<line x1="315.2" y1="37.6" x2="315.2" y2="41.2" stroke="#d4505a" stroke-width="0.6" />
<rect x="302.2" y="31.4" width="26" height="6.2" fill="#dc666e" stroke="#c0343a" stroke-width="0.5"/>
<line x1="302.2" y1="32.4" x2="328.2" y2="32.4" stroke="#b01822" stroke-width="1.0" />
<g fill="#cc121c"><rect x="314.75" y="29.85" width="1.5" height="1.5"/><rect x="309.05" y="33.45" width="1.5" height="1.5"/><rect x="317.55" y="40.15" width="1.5" height="1.5"/><rect x="319.75" y="39.75" width="1.5" height="1.5"/><rect x="312.75" y="30.85" width="1.5" height="1.5"/></g>
<line x1="358.45" y1="38" x2="358.45" y2="45.3" stroke="#4a7cbc" stroke-width="0.6" />
<line x1="358.45" y1="62.1" x2="358.45" y2="76" stroke="#4a7cbc" stroke-width="0.6" />
<rect x="345" y="45.3" width="26.9" height="16.8" fill="#608dc6" stroke="#2f62a0" stroke-width="0.5"/>
<line x1="345" y1="48.5" x2="371.9" y2="48.5" stroke="#285a98" stroke-width="0.9" />
<g fill="#1b58a6"><rect x="355.05" y="37.35" width="1.5" height="1.5"/><rect x="359.55" y="42.95" width="1.5" height="1.5"/><rect x="355.75" y="48.05" width="1.5" height="1.5"/><rect x="357.55" y="56.05" width="1.5" height="1.5"/><rect x="357.55" y="66.45" width="1.5" height="1.5"/><rect x="358.75" y="75.05" width="1.5" height="1.5"/></g>
<line x1="401.8" y1="14.5" x2="401.8" y2="146.7" stroke="#8f8f8f" stroke-width="0.8" />
<line x1="401.4" y1="146.3" x2="543.5" y2="146.3" stroke="#8f8f8f" stroke-width="0.8" />
<line x1="399.8" y1="25.7" x2="401.8" y2="25.7" stroke="#8f8f8f" stroke-width="0.8" />
<line x1="399.8" y1="58.5" x2="401.8" y2="58.5" stroke="#8f8f8f" stroke-width="0.8" />
<line x1="399.8" y1="91.3" x2="401.8" y2="91.3" stroke="#8f8f8f" stroke-width="0.8" />
<line x1="399.8" y1="124.1" x2="401.8" y2="124.1" stroke="#8f8f8f" stroke-width="0.8" />
<line x1="440" y1="146.3" x2="440" y2="147.9" stroke="#8f8f8f" stroke-width="0.8" />
<line x1="505" y1="146.3" x2="505" y2="147.9" stroke="#8f8f8f" stroke-width="0.8" />
<path d="M429.7,22.8V21.2H451V22.8" fill="none" stroke="#6a6a6a" stroke-width="0.6"/>
<path d="M494.5,26.8V25.2H514.7V26.8" fill="none" stroke="#6a6a6a" stroke-width="0.6"/>
<path d="M430.4,82.4L449.8,122.3M430.4,80.8L449.8,61.32M430.4,79.2L449.8,67.5M430.4,77.6L449.8,55.25M430.4,76L449.8,86.8M430.4,65.6L449.8,75.5M430.4,64.6L449.8,142.3M430.4,63.5L449.8,54.82M430.4,62.4L449.8,50.3M430.4,56.8L449.8,97M430.4,53.6L449.8,53.31M430.4,50.4L449.8,93M430.4,47.25L449.8,60.7M430.4,47.03L449.8,61.35M430.4,46.51L449.8,52.32M430.4,46.03L449.8,60.36M430.4,45.88L449.8,56.81M430.4,45.13L449.8,88.5M430.4,44.84L449.8,44.12M430.4,44.59L449.8,40.69M430.4,44.21L449.8,62.08M430.4,43.72L449.8,84M430.4,43.14L449.8,85.3M430.4,42.66L449.8,59.92M430.4,42.39L449.8,46.53M430.4,41.71L449.8,45.88M430.4,41.52L449.8,37.81M430.4,41.05L449.8,44.74M430.4,40.77L449.8,35.47M430.4,39.98L449.8,40.16M430.4,39.91L449.8,42.86M430.4,39.15L449.8,51.31M430.4,38.88L449.8,66.2M430.4,38.44L449.8,58.47M430.4,38.01L449.8,53.86M430.4,37.71L449.8,58.57M430.4,37.09L449.8,74M430.4,36.86L449.8,56.26M430.4,36.68L449.8,69M430.4,36.51L449.8,31.45M430.4,36.4L449.8,112M430.4,36.03L449.8,102M430.4,35.93L449.8,48.02M430.4,35.59L449.8,41.18M430.4,35.51L449.8,29.77M430.4,35.23L449.8,33.77M430.4,34.96L449.8,38.98M430.4,34.88L449.8,72.5M430.4,34.59L449.8,49.87M430.4,34.47L449.8,42.7M430.4,34.27L449.8,55.69M430.4,34.02L449.8,30.8M430.4,33.63L449.8,39.54M430.4,33.43L449.8,45M430.4,33.27L449.8,48.2M430.4,33.13L449.8,57.62M430.4,32.84L449.8,52.03M430.4,32.61L449.8,43.8M430.4,32.47L449.8,40.33M430.4,32.21L449.8,46.55M430.4,31.95L449.8,36.22M430.4,31.91L449.8,34.84M430.4,31.65L449.8,39.91M430.4,31.38L449.8,37.99M430.4,31.23L449.8,32.88M430.4,30.96L449.8,28.99M430.4,30.71L449.8,62.26M430.4,30.58L449.8,41.72M430.4,30.29L449.8,60.08M430.4,30.13L449.8,33.35M430.4,29.85L449.8,32.37M430.4,29.74L449.8,60.35M430.4,29.61L449.8,43.6M430.4,29.57L449.8,28.32M430.4,29.4L449.8,49.18M430.4,29.35L449.8,35.67M430.4,29.16L449.8,38.55M430.4,29.09L449.8,45.35M430.4,29L449.8,49.08M430.4,28.9L449.8,38.65M430.4,28.77L449.8,30.42M430.4,28.66L449.8,36.61M430.4,28.55L449.8,28.67M430.4,28.45L449.8,42.36M430.4,28.37L449.8,32.04M430.4,28.21L449.8,32.77M430.4,28.12L449.8,37.43M430.4,28.02L449.8,51.1M430.4,27.96L449.8,30.67M430.4,27.85L449.8,43.28M430.4,27.73L449.8,37.19M430.4,27.59L449.8,52.95M430.4,27.53L449.8,34.48M430.4,27.42L449.8,31.91M430.4,27.33L449.8,31.16M430.4,27.17L449.8,34.9M430.4,27.13L449.8,57.18M430.4,27.05L449.8,28.04M430.4,26.88L449.8,41.58M430.4,26.76L449.8,47.29M430.4,26.67L449.8,28.49M430.4,26.58L449.8,33.93M430.4,26.46L449.8,29.33M430.4,26.4L449.8,31.74M430.4,26.27L449.8,27.43M430.4,26.22L449.8,33.1M430.4,26.11L449.8,30.14M430.4,25.97L449.8,27.62M430.4,25.86L449.8,36.15M430.4,25.76L449.8,29.48" stroke="#000" stroke-width="0.5" stroke-opacity="0.95" fill="none"/>
<g fill="#c20a14"><circle cx="430.4" cy="82.4" r="1.35"/><circle cx="430.4" cy="80.8" r="1.35"/><circle cx="430.4" cy="79.2" r="1.35"/><circle cx="430.4" cy="77.6" r="1.35"/><circle cx="430.4" cy="76" r="1.35"/><circle cx="430.4" cy="65.6" r="1.35"/><circle cx="430.4" cy="64.6" r="1.35"/><circle cx="430.4" cy="63.5" r="1.35"/><circle cx="430.4" cy="62.4" r="1.35"/><circle cx="430.4" cy="56.8" r="1.35"/><circle cx="430.4" cy="53.6" r="1.35"/><circle cx="430.4" cy="50.4" r="1.35"/><circle cx="430.4" cy="47.25" r="1.35"/><circle cx="430.4" cy="47.03" r="1.35"/><circle cx="430.4" cy="46.51" r="1.35"/><circle cx="430.4" cy="46.03" r="1.35"/><circle cx="430.4" cy="45.88" r="1.35"/><circle cx="430.4" cy="45.13" r="1.35"/><circle cx="430.4" cy="44.84" r="1.35"/><circle cx="430.4" cy="44.59" r="1.35"/><circle cx="430.4" cy="44.21" r="1.35"/><circle cx="430.4" cy="43.72" r="1.35"/><circle cx="430.4" cy="43.14" r="1.35"/><circle cx="430.4" cy="42.66" r="1.35"/><circle cx="430.4" cy="42.39" r="1.35"/><circle cx="430.4" cy="41.71" r="1.35"/><circle cx="430.4" cy="41.52" r="1.35"/><circle cx="430.4" cy="41.05" r="1.35"/><circle cx="430.4" cy="40.77" r="1.35"/><circle cx="430.4" cy="39.98" r="1.35"/><circle cx="430.4" cy="39.91" r="1.35"/><circle cx="430.4" cy="39.15" r="1.35"/><circle cx="430.4" cy="38.88" r="1.35"/><circle cx="430.4" cy="38.44" r="1.35"/><circle cx="430.4" cy="38.01" r="1.35"/><circle cx="430.4" cy="37.71" r="1.35"/><circle cx="430.4" cy="37.09" r="1.35"/><circle cx="430.4" cy="36.86" r="1.35"/><circle cx="430.4" cy="36.68" r="1.35"/><circle cx="430.4" cy="36.51" r="1.35"/><circle cx="430.4" cy="36.4" r="1.35"/><circle cx="430.4" cy="36.03" r="1.35"/><circle cx="430.4" cy="35.93" r="1.35"/><circle cx="430.4" cy="35.59" r="1.35"/><circle cx="430.4" cy="35.51" r="1.35"/><circle cx="430.4" cy="35.23" r="1.35"/><circle cx="430.4" cy="34.96" r="1.35"/><circle cx="430.4" cy="34.88" r="1.35"/><circle cx="430.4" cy="34.59" r="1.35"/><circle cx="430.4" cy="34.47" r="1.35"/><circle cx="430.4" cy="34.27" r="1.35"/><circle cx="430.4" cy="34.02" r="1.35"/><circle cx="430.4" cy="33.63" r="1.35"/><circle cx="430.4" cy="33.43" r="1.35"/><circle cx="430.4" cy="33.27" r="1.35"/><circle cx="430.4" cy="33.13" r="1.35"/><circle cx="430.4" cy="32.84" r="1.35"/><circle cx="430.4" cy="32.61" r="1.35"/><circle cx="430.4" cy="32.47" r="1.35"/><circle cx="430.4" cy="32.21" r="1.35"/><circle cx="430.4" cy="31.95" r="1.35"/><circle cx="430.4" cy="31.91" r="1.35"/><circle cx="430.4" cy="31.65" r="1.35"/><circle cx="430.4" cy="31.38" r="1.35"/><circle cx="430.4" cy="31.23" r="1.35"/><circle cx="430.4" cy="30.96" r="1.35"/><circle cx="430.4" cy="30.71" r="1.35"/><circle cx="430.4" cy="30.58" r="1.35"/><circle cx="430.4" cy="30.29" r="1.35"/><circle cx="430.4" cy="30.13" r="1.35"/><circle cx="430.4" cy="29.85" r="1.35"/><circle cx="430.4" cy="29.74" r="1.35"/><circle cx="430.4" cy="29.61" r="1.35"/><circle cx="430.4" cy="29.57" r="1.35"/><circle cx="430.4" cy="29.4" r="1.35"/><circle cx="430.4" cy="29.35" r="1.35"/><circle cx="430.4" cy="29.16" r="1.35"/><circle cx="430.4" cy="29.09" r="1.35"/><circle cx="430.4" cy="29" r="1.35"/><circle cx="430.4" cy="28.9" r="1.35"/><circle cx="430.4" cy="28.77" r="1.35"/><circle cx="430.4" cy="28.66" r="1.35"/><circle cx="430.4" cy="28.55" r="1.35"/><circle cx="430.4" cy="28.45" r="1.35"/><circle cx="430.4" cy="28.37" r="1.35"/><circle cx="430.4" cy="28.21" r="1.35"/><circle cx="430.4" cy="28.12" r="1.35"/><circle cx="430.4" cy="28.02" r="1.35"/><circle cx="430.4" cy="27.96" r="1.35"/><circle cx="430.4" cy="27.85" r="1.35"/><circle cx="430.4" cy="27.73" r="1.35"/><circle cx="430.4" cy="27.59" r="1.35"/><circle cx="430.4" cy="27.53" r="1.35"/><circle cx="430.4" cy="27.42" r="1.35"/><circle cx="430.4" cy="27.33" r="1.35"/><circle cx="430.4" cy="27.17" r="1.35"/><circle cx="430.4" cy="27.13" r="1.35"/><circle cx="430.4" cy="27.05" r="1.35"/><circle cx="430.4" cy="26.88" r="1.35"/><circle cx="430.4" cy="26.76" r="1.35"/><circle cx="430.4" cy="26.67" r="1.35"/><circle cx="430.4" cy="26.58" r="1.35"/><circle cx="430.4" cy="26.46" r="1.35"/><circle cx="430.4" cy="26.4" r="1.35"/><circle cx="430.4" cy="26.27" r="1.35"/><circle cx="430.4" cy="26.22" r="1.35"/><circle cx="430.4" cy="26.11" r="1.35"/><circle cx="430.4" cy="25.97" r="1.35"/><circle cx="430.4" cy="25.86" r="1.35"/><circle cx="430.4" cy="25.76" r="1.35"/></g>
<g fill="#17509e"><circle cx="449.8" cy="122.3" r="1.35"/><circle cx="449.8" cy="61.32" r="1.35"/><circle cx="449.8" cy="67.5" r="1.35"/><circle cx="449.8" cy="55.25" r="1.35"/><circle cx="449.8" cy="86.8" r="1.35"/><circle cx="449.8" cy="75.5" r="1.35"/><circle cx="449.8" cy="142.3" r="1.35"/><circle cx="449.8" cy="54.82" r="1.35"/><circle cx="449.8" cy="50.3" r="1.35"/><circle cx="449.8" cy="97" r="1.35"/><circle cx="449.8" cy="53.31" r="1.35"/><circle cx="449.8" cy="93" r="1.35"/><circle cx="449.8" cy="60.7" r="1.35"/><circle cx="449.8" cy="61.35" r="1.35"/><circle cx="449.8" cy="52.32" r="1.35"/><circle cx="449.8" cy="60.36" r="1.35"/><circle cx="449.8" cy="56.81" r="1.35"/><circle cx="449.8" cy="88.5" r="1.35"/><circle cx="449.8" cy="44.12" r="1.35"/><circle cx="449.8" cy="40.69" r="1.35"/><circle cx="449.8" cy="62.08" r="1.35"/><circle cx="449.8" cy="84" r="1.35"/><circle cx="449.8" cy="85.3" r="1.35"/><circle cx="449.8" cy="59.92" r="1.35"/><circle cx="449.8" cy="46.53" r="1.35"/><circle cx="449.8" cy="45.88" r="1.35"/><circle cx="449.8" cy="37.81" r="1.35"/><circle cx="449.8" cy="44.74" r="1.35"/><circle cx="449.8" cy="35.47" r="1.35"/><circle cx="449.8" cy="40.16" r="1.35"/><circle cx="449.8" cy="42.86" r="1.35"/><circle cx="449.8" cy="51.31" r="1.35"/><circle cx="449.8" cy="66.2" r="1.35"/><circle cx="449.8" cy="58.47" r="1.35"/><circle cx="449.8" cy="53.86" r="1.35"/><circle cx="449.8" cy="58.57" r="1.35"/><circle cx="449.8" cy="74" r="1.35"/><circle cx="449.8" cy="56.26" r="1.35"/><circle cx="449.8" cy="69" r="1.35"/><circle cx="449.8" cy="31.45" r="1.35"/><circle cx="449.8" cy="112" r="1.35"/><circle cx="449.8" cy="102" r="1.35"/><circle cx="449.8" cy="48.02" r="1.35"/><circle cx="449.8" cy="41.18" r="1.35"/><circle cx="449.8" cy="29.77" r="1.35"/><circle cx="449.8" cy="33.77" r="1.35"/><circle cx="449.8" cy="38.98" r="1.35"/><circle cx="449.8" cy="72.5" r="1.35"/><circle cx="449.8" cy="49.87" r="1.35"/><circle cx="449.8" cy="42.7" r="1.35"/><circle cx="449.8" cy="55.69" r="1.35"/><circle cx="449.8" cy="30.8" r="1.35"/><circle cx="449.8" cy="39.54" r="1.35"/><circle cx="449.8" cy="45" r="1.35"/><circle cx="449.8" cy="48.2" r="1.35"/><circle cx="449.8" cy="57.62" r="1.35"/><circle cx="449.8" cy="52.03" r="1.35"/><circle cx="449.8" cy="43.8" r="1.35"/><circle cx="449.8" cy="40.33" r="1.35"/><circle cx="449.8" cy="46.55" r="1.35"/><circle cx="449.8" cy="36.22" r="1.35"/><circle cx="449.8" cy="34.84" r="1.35"/><circle cx="449.8" cy="39.91" r="1.35"/><circle cx="449.8" cy="37.99" r="1.35"/><circle cx="449.8" cy="32.88" r="1.35"/><circle cx="449.8" cy="28.99" r="1.35"/><circle cx="449.8" cy="62.26" r="1.35"/><circle cx="449.8" cy="41.72" r="1.35"/><circle cx="449.8" cy="60.08" r="1.35"/><circle cx="449.8" cy="33.35" r="1.35"/><circle cx="449.8" cy="32.37" r="1.35"/><circle cx="449.8" cy="60.35" r="1.35"/><circle cx="449.8" cy="43.6" r="1.35"/><circle cx="449.8" cy="28.32" r="1.35"/><circle cx="449.8" cy="49.18" r="1.35"/><circle cx="449.8" cy="35.67" r="1.35"/><circle cx="449.8" cy="38.55" r="1.35"/><circle cx="449.8" cy="45.35" r="1.35"/><circle cx="449.8" cy="49.08" r="1.35"/><circle cx="449.8" cy="38.65" r="1.35"/><circle cx="449.8" cy="30.42" r="1.35"/><circle cx="449.8" cy="36.61" r="1.35"/><circle cx="449.8" cy="28.67" r="1.35"/><circle cx="449.8" cy="42.36" r="1.35"/><circle cx="449.8" cy="32.04" r="1.35"/><circle cx="449.8" cy="32.77" r="1.35"/><circle cx="449.8" cy="37.43" r="1.35"/><circle cx="449.8" cy="51.1" r="1.35"/><circle cx="449.8" cy="30.67" r="1.35"/><circle cx="449.8" cy="43.28" r="1.35"/><circle cx="449.8" cy="37.19" r="1.35"/><circle cx="449.8" cy="52.95" r="1.35"/><circle cx="449.8" cy="34.48" r="1.35"/><circle cx="449.8" cy="31.91" r="1.35"/><circle cx="449.8" cy="31.16" r="1.35"/><circle cx="449.8" cy="34.9" r="1.35"/><circle cx="449.8" cy="57.18" r="1.35"/><circle cx="449.8" cy="28.04" r="1.35"/><circle cx="449.8" cy="41.58" r="1.35"/><circle cx="449.8" cy="47.29" r="1.35"/><circle cx="449.8" cy="28.49" r="1.35"/><circle cx="449.8" cy="33.93" r="1.35"/><circle cx="449.8" cy="29.33" r="1.35"/><circle cx="449.8" cy="31.74" r="1.35"/><circle cx="449.8" cy="27.43" r="1.35"/><circle cx="449.8" cy="33.1" r="1.35"/><circle cx="449.8" cy="30.14" r="1.35"/><circle cx="449.8" cy="27.62" r="1.35"/><circle cx="449.8" cy="36.15" r="1.35"/><circle cx="449.8" cy="29.48" r="1.35"/></g>
<path d="M495,28.32L514.2,36.85M495,29.64L514.2,42.92M495,31.28L514.2,48M495,32.42L514.2,57.02M495,30.62L514.2,69.32M495,39.64L514.2,78.67" stroke="#000" stroke-width="0.5" stroke-opacity="1.0" fill="none"/>
<g fill="#c20a14"><circle cx="495" cy="28.32" r="1.35"/><circle cx="495" cy="29.64" r="1.35"/><circle cx="495" cy="31.28" r="1.35"/><circle cx="495" cy="32.42" r="1.35"/><circle cx="495" cy="30.62" r="1.35"/><circle cx="495" cy="39.64" r="1.35"/></g>
<g fill="#17509e"><circle cx="514.2" cy="36.85" r="1.35"/><circle cx="514.2" cy="42.92" r="1.35"/><circle cx="514.2" cy="48" r="1.35"/><circle cx="514.2" cy="57.02" r="1.35"/><circle cx="514.2" cy="69.32" r="1.35"/><circle cx="514.2" cy="78.67" r="1.35"/></g>
<circle cx="511.8" cy="129.4" r="1.3" fill="#cc121c"/>
<circle cx="511.8" cy="137" r="1.3" fill="#1b58a6"/>
<line x1="176.2" y1="168.4" x2="176.2" y2="300.7" stroke="#8f8f8f" stroke-width="0.8" />
<line x1="175.8" y1="300.3" x2="271" y2="300.3" stroke="#8f8f8f" stroke-width="0.8" />
<line x1="174.2" y1="176.6" x2="176.2" y2="176.6" stroke="#8f8f8f" stroke-width="0.8" />
<line x1="174.2" y1="202.6" x2="176.2" y2="202.6" stroke="#8f8f8f" stroke-width="0.8" />
<line x1="174.2" y1="228.6" x2="176.2" y2="228.6" stroke="#8f8f8f" stroke-width="0.8" />
<line x1="174.2" y1="254.6" x2="176.2" y2="254.6" stroke="#8f8f8f" stroke-width="0.8" />
<line x1="174.2" y1="280.6" x2="176.2" y2="280.6" stroke="#8f8f8f" stroke-width="0.8" />
<line x1="202.3" y1="300.3" x2="202.3" y2="301.9" stroke="#8f8f8f" stroke-width="0.8" />
<line x1="245.4" y1="300.3" x2="245.4" y2="301.9" stroke="#8f8f8f" stroke-width="0.8" />
<path d="M202.3,177.8V176.2H245.3V177.8" fill="none" stroke="#6a6a6a" stroke-width="0.6"/>
<line x1="202.1" y1="180" x2="202.1" y2="188.6" stroke="#d4505a" stroke-width="0.6" />
<line x1="202.1" y1="212.2" x2="202.1" y2="247.5" stroke="#d4505a" stroke-width="0.6" />
<rect x="189" y="188.6" width="26.2" height="23.6" fill="#dc666e" stroke="#c0343a" stroke-width="0.5"/>
<line x1="189" y1="197.2" x2="215.2" y2="197.2" stroke="#b8202a" stroke-width="0.9" />
<g fill="#cc121c"><rect x="202.96" y="191.19" width="1.45" height="1.45"/><rect x="205.89" y="205.51" width="1.45" height="1.45"/><rect x="201.36" y="188.14" width="1.45" height="1.45"/><rect x="204.82" y="205.41" width="1.45" height="1.45"/><rect x="203.56" y="189.45" width="1.45" height="1.45"/><rect x="205.95" y="201.05" width="1.45" height="1.45"/><rect x="199.76" y="190.76" width="1.45" height="1.45"/><rect x="204.98" y="196.71" width="1.45" height="1.45"/><rect x="205.09" y="194" width="1.45" height="1.45"/><rect x="205.29" y="190.7" width="1.45" height="1.45"/><rect x="201.49" y="199.44" width="1.45" height="1.45"/><rect x="206.92" y="194.59" width="1.45" height="1.45"/><rect x="204.1" y="193.11" width="1.45" height="1.45"/><rect x="206.85" y="192.64" width="1.45" height="1.45"/><rect x="204.9" y="196.15" width="1.45" height="1.45"/><rect x="204.21" y="200.16" width="1.45" height="1.45"/><rect x="204.59" y="209.29" width="1.45" height="1.45"/><rect x="205.35" y="199.16" width="1.45" height="1.45"/><rect x="198.56" y="208" width="1.45" height="1.45"/><rect x="199.2" y="209.46" width="1.45" height="1.45"/><rect x="206.57" y="190.72" width="1.45" height="1.45"/><rect x="206.66" y="209.41" width="1.45" height="1.45"/><rect x="198.75" y="196.78" width="1.45" height="1.45"/><rect x="205.88" y="194.95" width="1.45" height="1.45"/><rect x="204.29" y="208.79" width="1.45" height="1.45"/><rect x="196.27" y="188.71" width="1.45" height="1.45"/><rect x="199.39" y="196.68" width="1.45" height="1.45"/><rect x="199.06" y="207.11" width="1.45" height="1.45"/><rect x="206.37" y="203.03" width="1.45" height="1.45"/><rect x="200.14" y="195.93" width="1.45" height="1.45"/><rect x="206.51" y="188.61" width="1.45" height="1.45"/><rect x="204.15" y="192.99" width="1.45" height="1.45"/><rect x="196.31" y="189" width="1.45" height="1.45"/><rect x="202.11" y="202.34" width="1.45" height="1.45"/><rect x="196.16" y="189.49" width="1.45" height="1.45"/><rect x="201.13" y="198.48" width="1.45" height="1.45"/><rect x="207.36" y="196.96" width="1.45" height="1.45"/><rect x="205.34" y="204" width="1.45" height="1.45"/><rect x="198.76" y="199.56" width="1.45" height="1.45"/><rect x="201.24" y="188.37" width="1.45" height="1.45"/><rect x="202.88" y="194.24" width="1.45" height="1.45"/><rect x="198.58" y="193.07" width="1.45" height="1.45"/><rect x="201.83" y="209.74" width="1.45" height="1.45"/><rect x="207.52" y="187.96" width="1.45" height="1.45"/><rect x="202.16" y="207.91" width="1.45" height="1.45"/><rect x="204.86" y="189.74" width="1.45" height="1.45"/><rect x="205.59" y="208.74" width="1.45" height="1.45"/><rect x="203.94" y="206.67" width="1.45" height="1.45"/><rect x="198.65" y="190.33" width="1.45" height="1.45"/><rect x="195.62" y="206.89" width="1.45" height="1.45"/><rect x="197.95" y="197.23" width="1.45" height="1.45"/><rect x="197.31" y="192.41" width="1.45" height="1.45"/><rect x="197.37" y="195.74" width="1.45" height="1.45"/><rect x="203.92" y="206.87" width="1.45" height="1.45"/><rect x="199.02" y="197.66" width="1.45" height="1.45"/><rect x="199.92" y="203.64" width="1.45" height="1.45"/><rect x="201.55" y="203.13" width="1.45" height="1.45"/><rect x="199.87" y="204.54" width="1.45" height="1.45"/><rect x="206.75" y="205.28" width="1.45" height="1.45"/><rect x="206.26" y="211.22" width="1.45" height="1.45"/><rect x="205.52" y="208.78" width="1.45" height="1.45"/><rect x="199.22" y="207.91" width="1.45" height="1.45"/><rect x="201.73" y="203.91" width="1.45" height="1.45"/><rect x="195.88" y="202.54" width="1.45" height="1.45"/><rect x="200.49" y="199.25" width="1.45" height="1.45"/><rect x="199.65" y="197.25" width="1.45" height="1.45"/><rect x="204.54" y="204.25" width="1.45" height="1.45"/><rect x="198.51" y="202.86" width="1.45" height="1.45"/><rect x="199.93" y="203.99" width="1.45" height="1.45"/><rect x="197.65" y="208.08" width="1.45" height="1.45"/><rect x="197.92" y="201.18" width="1.45" height="1.45"/><rect x="196.98" y="211.08" width="1.45" height="1.45"/></g>
<g fill="#cc121c"><rect x="196.95" y="179.45" width="1.5" height="1.5"/><rect x="201.55" y="180.65" width="1.5" height="1.5"/><rect x="207.65" y="179.05" width="1.5" height="1.5"/><rect x="195.35" y="181.35" width="1.5" height="1.5"/><rect x="198.45" y="181.05" width="1.5" height="1.5"/><rect x="202.65" y="182.95" width="1.5" height="1.5"/><rect x="207.65" y="182.95" width="1.5" height="1.5"/><rect x="200.75" y="184.45" width="1.5" height="1.5"/><rect x="195.35" y="185.95" width="1.5" height="1.5"/><rect x="204.55" y="185.25" width="1.5" height="1.5"/><rect x="207.25" y="184.85" width="1.5" height="1.5"/><rect x="198.45" y="186.75" width="1.5" height="1.5"/><rect x="201.95" y="186.75" width="1.5" height="1.5"/><rect x="205.05" y="213.05" width="1.5" height="1.5"/><rect x="206.55" y="214.35" width="1.5" height="1.5"/><rect x="198.95" y="216.85" width="1.5" height="1.5"/><rect x="198.15" y="218.95" width="1.5" height="1.5"/><rect x="196.85" y="221.95" width="1.5" height="1.5"/><rect x="200.75" y="225.85" width="1.5" height="1.5"/><rect x="196.85" y="228.35" width="1.5" height="1.5"/><rect x="204.05" y="230.95" width="1.5" height="1.5"/><rect x="206.55" y="232.75" width="1.5" height="1.5"/><rect x="199.95" y="236.05" width="1.5" height="1.5"/><rect x="203.75" y="236.75" width="1.5" height="1.5"/><rect x="197.45" y="243.65" width="1.5" height="1.5"/><rect x="200.75" y="244.95" width="1.5" height="1.5"/><rect x="201.95" y="247.45" width="1.5" height="1.5"/><rect x="205.05" y="250.05" width="1.5" height="1.5"/><rect x="196.35" y="254.65" width="1.5" height="1.5"/><rect x="204.55" y="270.45" width="1.5" height="1.5"/><rect x="199.45" y="280.15" width="1.5" height="1.5"/><rect x="198.95" y="281.85" width="1.5" height="1.5"/></g>
<line x1="245.4" y1="182.5" x2="245.4" y2="198" stroke="#4a7cbc" stroke-width="0.6" />
<line x1="245.4" y1="233.4" x2="245.4" y2="285.6" stroke="#4a7cbc" stroke-width="0.6" />
<rect x="232.2" y="198" width="26.4" height="35.4" fill="#608dc6" stroke="#2f62a0" stroke-width="0.5"/>
<line x1="232.2" y1="214.2" x2="258.6" y2="214.2" stroke="#285a98" stroke-width="0.9" />
<g fill="#1b58a6"><rect x="246.41" y="201.72" width="1.45" height="1.45"/><rect x="247.7" y="206.8" width="1.45" height="1.45"/><rect x="240.17" y="204.39" width="1.45" height="1.45"/><rect x="246.15" y="207.61" width="1.45" height="1.45"/><rect x="246.55" y="231.75" width="1.45" height="1.45"/><rect x="244.21" y="221.84" width="1.45" height="1.45"/><rect x="248.35" y="230.11" width="1.45" height="1.45"/><rect x="241.56" y="206.87" width="1.45" height="1.45"/><rect x="241.35" y="220.84" width="1.45" height="1.45"/><rect x="243.1" y="221.32" width="1.45" height="1.45"/><rect x="239.88" y="202.84" width="1.45" height="1.45"/><rect x="251.04" y="228.1" width="1.45" height="1.45"/><rect x="240.59" y="209.89" width="1.45" height="1.45"/><rect x="245.08" y="225.65" width="1.45" height="1.45"/><rect x="243.33" y="229.3" width="1.45" height="1.45"/><rect x="248.9" y="227.56" width="1.45" height="1.45"/><rect x="240.3" y="199.66" width="1.45" height="1.45"/><rect x="243.78" y="228.07" width="1.45" height="1.45"/><rect x="246.52" y="205.19" width="1.45" height="1.45"/><rect x="247.46" y="211.72" width="1.45" height="1.45"/><rect x="239.92" y="217.68" width="1.45" height="1.45"/><rect x="246.85" y="204.94" width="1.45" height="1.45"/><rect x="241.75" y="227.95" width="1.45" height="1.45"/><rect x="243.82" y="226.79" width="1.45" height="1.45"/><rect x="245.31" y="229.02" width="1.45" height="1.45"/><rect x="249.52" y="212.59" width="1.45" height="1.45"/><rect x="240.05" y="228.58" width="1.45" height="1.45"/><rect x="241.59" y="217.41" width="1.45" height="1.45"/><rect x="241.63" y="211.44" width="1.45" height="1.45"/><rect x="242.26" y="200.14" width="1.45" height="1.45"/><rect x="240.69" y="216.8" width="1.45" height="1.45"/><rect x="245.34" y="202.64" width="1.45" height="1.45"/><rect x="238.17" y="224.2" width="1.45" height="1.45"/><rect x="246.79" y="197.42" width="1.45" height="1.45"/><rect x="242.45" y="202.22" width="1.45" height="1.45"/><rect x="248.33" y="232.38" width="1.45" height="1.45"/><rect x="243.39" y="198.41" width="1.45" height="1.45"/><rect x="242.64" y="217.09" width="1.45" height="1.45"/><rect x="245.32" y="204.88" width="1.45" height="1.45"/><rect x="246.09" y="226.56" width="1.45" height="1.45"/><rect x="241.36" y="203.95" width="1.45" height="1.45"/><rect x="241.86" y="206.11" width="1.45" height="1.45"/><rect x="248.54" y="217.5" width="1.45" height="1.45"/><rect x="250.31" y="198.94" width="1.45" height="1.45"/><rect x="249.22" y="230.72" width="1.45" height="1.45"/><rect x="245.08" y="221.16" width="1.45" height="1.45"/><rect x="241.6" y="198.12" width="1.45" height="1.45"/><rect x="245.3" y="199.5" width="1.45" height="1.45"/><rect x="244.13" y="228.66" width="1.45" height="1.45"/><rect x="238.9" y="210.18" width="1.45" height="1.45"/><rect x="248.04" y="206.65" width="1.45" height="1.45"/><rect x="241.26" y="230" width="1.45" height="1.45"/><rect x="244.51" y="208.18" width="1.45" height="1.45"/><rect x="244.98" y="220.85" width="1.45" height="1.45"/><rect x="248.51" y="224.46" width="1.45" height="1.45"/><rect x="250.24" y="214.34" width="1.45" height="1.45"/><rect x="248.99" y="211.74" width="1.45" height="1.45"/><rect x="249.76" y="219.35" width="1.45" height="1.45"/><rect x="238.2" y="202.26" width="1.45" height="1.45"/><rect x="242.28" y="222.92" width="1.45" height="1.45"/></g>
<g fill="#1b58a6"><rect x="240.15" y="183.35" width="1.5" height="1.5"/><rect x="243.65" y="182.55" width="1.5" height="1.5"/><rect x="243.95" y="183.65" width="1.5" height="1.5"/><rect x="242.45" y="185.95" width="1.5" height="1.5"/><rect x="248.95" y="185.95" width="1.5" height="1.5"/><rect x="240.55" y="187.95" width="1.5" height="1.5"/><rect x="244.35" y="188.25" width="1.5" height="1.5"/><rect x="238.65" y="189.05" width="1.5" height="1.5"/><rect x="249.75" y="189.05" width="1.5" height="1.5"/><rect x="239.35" y="190.95" width="1.5" height="1.5"/><rect x="247.05" y="191.35" width="1.5" height="1.5"/><rect x="238.65" y="192.85" width="1.5" height="1.5"/><rect x="248.55" y="192.85" width="1.5" height="1.5"/><rect x="243.25" y="194.85" width="1.5" height="1.5"/><rect x="249.75" y="194.05" width="1.5" height="1.5"/><rect x="247.05" y="195.55" width="1.5" height="1.5"/><rect x="244.75" y="195.95" width="1.5" height="1.5"/><rect x="240.65" y="234.15" width="1.5" height="1.5"/><rect x="242.05" y="234.85" width="1.5" height="1.5"/><rect x="246.45" y="234.15" width="1.5" height="1.5"/><rect x="248.75" y="235.55" width="1.5" height="1.5"/><rect x="238.45" y="237.05" width="1.5" height="1.5"/><rect x="245.15" y="237.05" width="1.5" height="1.5"/><rect x="248.75" y="238.65" width="1.5" height="1.5"/><rect x="237.95" y="240.05" width="1.5" height="1.5"/><rect x="242.45" y="239.35" width="1.5" height="1.5"/><rect x="247.35" y="242.25" width="1.5" height="1.5"/><rect x="248.05" y="244.45" width="1.5" height="1.5"/><rect x="238.45" y="247.65" width="1.5" height="1.5"/><rect x="239.75" y="249.85" width="1.5" height="1.5"/><rect x="249.65" y="249.45" width="1.5" height="1.5"/><rect x="238.65" y="252.35" width="1.5" height="1.5"/><rect x="245.85" y="255.65" width="1.5" height="1.5"/><rect x="248.75" y="253.45" width="1.5" height="1.5"/><rect x="250.25" y="255.65" width="1.5" height="1.5"/><rect x="246.95" y="258.35" width="1.5" height="1.5"/><rect x="243.55" y="260.15" width="1.5" height="1.5"/><rect x="241.35" y="264.65" width="1.5" height="1.5"/><rect x="242.85" y="268.45" width="1.5" height="1.5"/><rect x="250.25" y="272.95" width="1.5" height="1.5"/><rect x="244.65" y="284.85" width="1.5" height="1.5"/><rect x="245.85" y="296.05" width="1.5" height="1.5"/></g>
<line x1="289.5" y1="168" x2="289.5" y2="300.8" stroke="#8f8f8f" stroke-width="0.8" />
<line x1="289.1" y1="300.4" x2="383.3" y2="300.4" stroke="#8f8f8f" stroke-width="0.8" />
<line x1="287.5" y1="180.3" x2="289.5" y2="180.3" stroke="#8f8f8f" stroke-width="0.8" />
<line x1="287.5" y1="204.1" x2="289.5" y2="204.1" stroke="#8f8f8f" stroke-width="0.8" />
<line x1="287.5" y1="227.9" x2="289.5" y2="227.9" stroke="#8f8f8f" stroke-width="0.8" />
<line x1="287.5" y1="251.7" x2="289.5" y2="251.7" stroke="#8f8f8f" stroke-width="0.8" />
<line x1="287.5" y1="275.5" x2="289.5" y2="275.5" stroke="#8f8f8f" stroke-width="0.8" />
<line x1="315.5" y1="300.4" x2="315.5" y2="302" stroke="#8f8f8f" stroke-width="0.8" />
<line x1="358.3" y1="300.4" x2="358.3" y2="302" stroke="#8f8f8f" stroke-width="0.8" />
<path d="M314.6,178.7V177.1H358.5V178.7" fill="none" stroke="#6a6a6a" stroke-width="0.6"/>
<line x1="315.15" y1="183.8" x2="315.15" y2="189.1" stroke="#d4505a" stroke-width="0.6" />
<rect x="302.2" y="189.1" width="25.9" height="5.1" fill="#d8545c" stroke="#c0343a" stroke-width="0.5"/>
<line x1="302.2" y1="191.3" x2="328.1" y2="191.3" stroke="#b01822" stroke-width="0.9" />
<g fill="#cc121c"><rect x="317.75" y="183.05" width="1.5" height="1.5"/><rect x="319.45" y="188.35" width="1.5" height="1.5"/><rect x="311.55" y="189.45" width="1.5" height="1.5"/><rect x="316.65" y="194.25" width="1.5" height="1.5"/><rect x="310.55" y="203.05" width="1.5" height="1.5"/><rect x="314.25" y="190.75" width="1.5" height="1.5"/></g>
<line x1="358.5" y1="191.1" x2="358.5" y2="199.3" stroke="#4a7cbc" stroke-width="0.6" />
<line x1="358.5" y1="205" x2="358.5" y2="206.2" stroke="#4a7cbc" stroke-width="0.6" />
<rect x="345.3" y="199.3" width="26.4" height="5.7" fill="#608dc6" stroke="#2f62a0" stroke-width="0.5"/>
<line x1="345.3" y1="201.4" x2="371.7" y2="201.4" stroke="#285a98" stroke-width="0.9" />
<g fill="#1b58a6"><rect x="357.85" y="190.45" width="1.5" height="1.5"/><rect x="356.55" y="199.85" width="1.5" height="1.5"/><rect x="353.65" y="201.75" width="1.5" height="1.5"/><rect x="363.25" y="206.65" width="1.5" height="1.5"/><rect x="362.65" y="213.35" width="1.5" height="1.5"/></g>
<line x1="401.6" y1="169.2" x2="401.6" y2="301.2" stroke="#8f8f8f" stroke-width="0.8" />
<line x1="401.2" y1="300.8" x2="543.5" y2="300.8" stroke="#8f8f8f" stroke-width="0.8" />
<line x1="399.6" y1="177.5" x2="401.6" y2="177.5" stroke="#8f8f8f" stroke-width="0.8" />
<line x1="399.6" y1="203.3" x2="401.6" y2="203.3" stroke="#8f8f8f" stroke-width="0.8" />
<line x1="399.6" y1="229.1" x2="401.6" y2="229.1" stroke="#8f8f8f" stroke-width="0.8" />
<line x1="399.6" y1="254.9" x2="401.6" y2="254.9" stroke="#8f8f8f" stroke-width="0.8" />
<line x1="399.6" y1="280.7" x2="401.6" y2="280.7" stroke="#8f8f8f" stroke-width="0.8" />
<line x1="440" y1="300.8" x2="440" y2="302.4" stroke="#8f8f8f" stroke-width="0.8" />
<line x1="505" y1="300.8" x2="505" y2="302.4" stroke="#8f8f8f" stroke-width="0.8" />
<path d="M430,179.2V177.6H449.7V179.2" fill="none" stroke="#6a6a6a" stroke-width="0.6"/>
<path d="M494.5,179.5V177.9H514.7V179.5" fill="none" stroke="#6a6a6a" stroke-width="0.6"/>
<path d="M430.4,283L449.8,261.03M430.4,282L449.8,296.5M430.4,280.8L449.8,285.3M430.4,271.9L449.8,259.82M430.4,255.8L449.8,247.96M430.4,251.79L449.8,258.72M430.4,250.69L449.8,252.46M430.4,250.24L449.8,273.4M430.4,249L449.8,237.84M430.4,247.75L449.8,252.72M430.4,246.29L449.8,254.09M430.4,245L449.8,243.31M430.4,239.06L449.8,246.63M430.4,237.72L449.8,264M430.4,236.85L449.8,261.83M430.4,235.82L449.8,255.08M430.4,234.31L449.8,227.05M430.4,233.68L449.8,257.95M430.4,232.27L449.8,248.14M430.4,231.07L449.8,244.42M430.4,230.52L449.8,217.41M430.4,228.4L449.8,227.68M430.4,227.53L449.8,233.09M430.4,226.26L449.8,249.18M430.4,226.03L449.8,263M430.4,224.84L449.8,251.65M430.4,219.3L449.8,224.42M430.4,219.13L449.8,221.78M430.4,217.78L449.8,230.97M430.4,216.94L449.8,265.2M430.4,216.37L449.8,268M430.4,215.51L449.8,241.56M430.4,214.36L449.8,240.75M430.4,213.81L449.8,236.89M430.4,213.08L449.8,224.9M430.4,212.11L449.8,223.26M430.4,211.69L449.8,256.4M430.4,210.12L449.8,230.15M430.4,209.61L449.8,235.64M430.4,208.84L449.8,210.04M430.4,208.15L449.8,240.41M430.4,207.51L449.8,233.48M430.4,206.67L449.8,215.82M430.4,205.65L449.8,218.22M430.4,205.29L449.8,231.61M430.4,204.5L449.8,257.15M430.4,204.21L449.8,243.39M430.4,203.83L449.8,236.64M430.4,203.43L449.8,206.47M430.4,203.08L449.8,212.51M430.4,202.35L449.8,239.33M430.4,201.92L449.8,250.41M430.4,201.61L449.8,218.67M430.4,201.17L449.8,214.31M430.4,200.73L449.8,246.11M430.4,200.33L449.8,222.95M430.4,199.83L449.8,207.7M430.4,199.29L449.8,198.85M430.4,198.87L449.8,195.31M430.4,198.35L449.8,204.46M430.4,197.98L449.8,225.72M430.4,197.42L449.8,201.89M430.4,197.04L449.8,188.26M430.4,196.66L449.8,234.59M430.4,196.02L449.8,228.4M430.4,195.72L449.8,194.81M430.4,195.24L449.8,196.92M430.4,194.38L449.8,220.14M430.4,193.98L449.8,200.89M430.4,193.55L449.8,211.63M430.4,193.43L449.8,208.62M430.4,192.9L449.8,213.31M430.4,192.49L449.8,198.07M430.4,191.79L449.8,200.35M430.4,191.33L449.8,210.6M430.4,190.99L449.8,221.07M430.4,190.46L449.8,214.68M430.4,189.78L449.8,216.15M430.4,189.52L449.8,205.54M430.4,188.93L449.8,192.57M430.4,188.42L449.8,191.7M430.4,188L449.8,196.18M430.4,187.88L449.8,209.48M430.4,187.27L449.8,191.6M430.4,186.57L449.8,188.85M430.4,186.12L449.8,219.25M430.4,185.71L449.8,204.81M430.4,185.37L449.8,199.65M430.4,185.14L449.8,185.47M430.4,184.35L449.8,187.28M430.4,183.92L449.8,193.99M430.4,183.35L449.8,186.62M430.4,183.28L449.8,202.79M430.4,182.56L449.8,190.33M430.4,182.22L449.8,229.66M430.4,181.72L449.8,184.89M430.4,181.13L449.8,189.86M430.4,180.81L449.8,184.1M430.4,180.09L449.8,203.75" stroke="#000" stroke-width="0.45" stroke-opacity="0.9" fill="none"/>
<g fill="#c20a14"><circle cx="430.4" cy="283" r="1.35"/><circle cx="430.4" cy="282" r="1.35"/><circle cx="430.4" cy="280.8" r="1.35"/><circle cx="430.4" cy="271.9" r="1.35"/><circle cx="430.4" cy="255.8" r="1.35"/><circle cx="430.4" cy="251.79" r="1.35"/><circle cx="430.4" cy="250.69" r="1.35"/><circle cx="430.4" cy="250.24" r="1.35"/><circle cx="430.4" cy="249" r="1.35"/><circle cx="430.4" cy="247.75" r="1.35"/><circle cx="430.4" cy="246.29" r="1.35"/><circle cx="430.4" cy="245" r="1.35"/><circle cx="430.4" cy="239.06" r="1.35"/><circle cx="430.4" cy="237.72" r="1.35"/><circle cx="430.4" cy="236.85" r="1.35"/><circle cx="430.4" cy="235.82" r="1.35"/><circle cx="430.4" cy="234.31" r="1.35"/><circle cx="430.4" cy="233.68" r="1.35"/><circle cx="430.4" cy="232.27" r="1.35"/><circle cx="430.4" cy="231.07" r="1.35"/><circle cx="430.4" cy="230.52" r="1.35"/><circle cx="430.4" cy="228.4" r="1.35"/><circle cx="430.4" cy="227.53" r="1.35"/><circle cx="430.4" cy="226.26" r="1.35"/><circle cx="430.4" cy="226.03" r="1.35"/><circle cx="430.4" cy="224.84" r="1.35"/><circle cx="430.4" cy="219.3" r="1.35"/><circle cx="430.4" cy="219.13" r="1.35"/><circle cx="430.4" cy="217.78" r="1.35"/><circle cx="430.4" cy="216.94" r="1.35"/><circle cx="430.4" cy="216.37" r="1.35"/><circle cx="430.4" cy="215.51" r="1.35"/><circle cx="430.4" cy="214.36" r="1.35"/><circle cx="430.4" cy="213.81" r="1.35"/><circle cx="430.4" cy="213.08" r="1.35"/><circle cx="430.4" cy="212.11" r="1.35"/><circle cx="430.4" cy="211.69" r="1.35"/><circle cx="430.4" cy="210.12" r="1.35"/><circle cx="430.4" cy="209.61" r="1.35"/><circle cx="430.4" cy="208.84" r="1.35"/><circle cx="430.4" cy="208.15" r="1.35"/><circle cx="430.4" cy="207.51" r="1.35"/><circle cx="430.4" cy="206.67" r="1.35"/><circle cx="430.4" cy="205.65" r="1.35"/><circle cx="430.4" cy="205.29" r="1.35"/><circle cx="430.4" cy="204.5" r="1.35"/><circle cx="430.4" cy="204.21" r="1.35"/><circle cx="430.4" cy="203.83" r="1.35"/><circle cx="430.4" cy="203.43" r="1.35"/><circle cx="430.4" cy="203.08" r="1.35"/><circle cx="430.4" cy="202.35" r="1.35"/><circle cx="430.4" cy="201.92" r="1.35"/><circle cx="430.4" cy="201.61" r="1.35"/><circle cx="430.4" cy="201.17" r="1.35"/><circle cx="430.4" cy="200.73" r="1.35"/><circle cx="430.4" cy="200.33" r="1.35"/><circle cx="430.4" cy="199.83" r="1.35"/><circle cx="430.4" cy="199.29" r="1.35"/><circle cx="430.4" cy="198.87" r="1.35"/><circle cx="430.4" cy="198.35" r="1.35"/><circle cx="430.4" cy="197.98" r="1.35"/><circle cx="430.4" cy="197.42" r="1.35"/><circle cx="430.4" cy="197.04" r="1.35"/><circle cx="430.4" cy="196.66" r="1.35"/><circle cx="430.4" cy="196.02" r="1.35"/><circle cx="430.4" cy="195.72" r="1.35"/><circle cx="430.4" cy="195.24" r="1.35"/><circle cx="430.4" cy="194.38" r="1.35"/><circle cx="430.4" cy="193.98" r="1.35"/><circle cx="430.4" cy="193.55" r="1.35"/><circle cx="430.4" cy="193.43" r="1.35"/><circle cx="430.4" cy="192.9" r="1.35"/><circle cx="430.4" cy="192.49" r="1.35"/><circle cx="430.4" cy="191.79" r="1.35"/><circle cx="430.4" cy="191.33" r="1.35"/><circle cx="430.4" cy="190.99" r="1.35"/><circle cx="430.4" cy="190.46" r="1.35"/><circle cx="430.4" cy="189.78" r="1.35"/><circle cx="430.4" cy="189.52" r="1.35"/><circle cx="430.4" cy="188.93" r="1.35"/><circle cx="430.4" cy="188.42" r="1.35"/><circle cx="430.4" cy="188" r="1.35"/><circle cx="430.4" cy="187.88" r="1.35"/><circle cx="430.4" cy="187.27" r="1.35"/><circle cx="430.4" cy="186.57" r="1.35"/><circle cx="430.4" cy="186.12" r="1.35"/><circle cx="430.4" cy="185.71" r="1.35"/><circle cx="430.4" cy="185.37" r="1.35"/><circle cx="430.4" cy="185.14" r="1.35"/><circle cx="430.4" cy="184.35" r="1.35"/><circle cx="430.4" cy="183.92" r="1.35"/><circle cx="430.4" cy="183.35" r="1.35"/><circle cx="430.4" cy="183.28" r="1.35"/><circle cx="430.4" cy="182.56" r="1.35"/><circle cx="430.4" cy="182.22" r="1.35"/><circle cx="430.4" cy="181.72" r="1.35"/><circle cx="430.4" cy="181.13" r="1.35"/><circle cx="430.4" cy="180.81" r="1.35"/><circle cx="430.4" cy="180.09" r="1.35"/></g>
<g fill="#17509e"><circle cx="449.8" cy="261.03" r="1.35"/><circle cx="449.8" cy="296.5" r="1.35"/><circle cx="449.8" cy="285.3" r="1.35"/><circle cx="449.8" cy="259.82" r="1.35"/><circle cx="449.8" cy="247.96" r="1.35"/><circle cx="449.8" cy="258.72" r="1.35"/><circle cx="449.8" cy="252.46" r="1.35"/><circle cx="449.8" cy="273.4" r="1.35"/><circle cx="449.8" cy="237.84" r="1.35"/><circle cx="449.8" cy="252.72" r="1.35"/><circle cx="449.8" cy="254.09" r="1.35"/><circle cx="449.8" cy="243.31" r="1.35"/><circle cx="449.8" cy="246.63" r="1.35"/><circle cx="449.8" cy="264" r="1.35"/><circle cx="449.8" cy="261.83" r="1.35"/><circle cx="449.8" cy="255.08" r="1.35"/><circle cx="449.8" cy="227.05" r="1.35"/><circle cx="449.8" cy="257.95" r="1.35"/><circle cx="449.8" cy="248.14" r="1.35"/><circle cx="449.8" cy="244.42" r="1.35"/><circle cx="449.8" cy="217.41" r="1.35"/><circle cx="449.8" cy="227.68" r="1.35"/><circle cx="449.8" cy="233.09" r="1.35"/><circle cx="449.8" cy="249.18" r="1.35"/><circle cx="449.8" cy="263" r="1.35"/><circle cx="449.8" cy="251.65" r="1.35"/><circle cx="449.8" cy="224.42" r="1.35"/><circle cx="449.8" cy="221.78" r="1.35"/><circle cx="449.8" cy="230.97" r="1.35"/><circle cx="449.8" cy="265.2" r="1.35"/><circle cx="449.8" cy="268" r="1.35"/><circle cx="449.8" cy="241.56" r="1.35"/><circle cx="449.8" cy="240.75" r="1.35"/><circle cx="449.8" cy="236.89" r="1.35"/><circle cx="449.8" cy="224.9" r="1.35"/><circle cx="449.8" cy="223.26" r="1.35"/><circle cx="449.8" cy="256.4" r="1.35"/><circle cx="449.8" cy="230.15" r="1.35"/><circle cx="449.8" cy="235.64" r="1.35"/><circle cx="449.8" cy="210.04" r="1.35"/><circle cx="449.8" cy="240.41" r="1.35"/><circle cx="449.8" cy="233.48" r="1.35"/><circle cx="449.8" cy="215.82" r="1.35"/><circle cx="449.8" cy="218.22" r="1.35"/><circle cx="449.8" cy="231.61" r="1.35"/><circle cx="449.8" cy="257.15" r="1.35"/><circle cx="449.8" cy="243.39" r="1.35"/><circle cx="449.8" cy="236.64" r="1.35"/><circle cx="449.8" cy="206.47" r="1.35"/><circle cx="449.8" cy="212.51" r="1.35"/><circle cx="449.8" cy="239.33" r="1.35"/><circle cx="449.8" cy="250.41" r="1.35"/><circle cx="449.8" cy="218.67" r="1.35"/><circle cx="449.8" cy="214.31" r="1.35"/><circle cx="449.8" cy="246.11" r="1.35"/><circle cx="449.8" cy="222.95" r="1.35"/><circle cx="449.8" cy="207.7" r="1.35"/><circle cx="449.8" cy="198.85" r="1.35"/><circle cx="449.8" cy="195.31" r="1.35"/><circle cx="449.8" cy="204.46" r="1.35"/><circle cx="449.8" cy="225.72" r="1.35"/><circle cx="449.8" cy="201.89" r="1.35"/><circle cx="449.8" cy="188.26" r="1.35"/><circle cx="449.8" cy="234.59" r="1.35"/><circle cx="449.8" cy="228.4" r="1.35"/><circle cx="449.8" cy="194.81" r="1.35"/><circle cx="449.8" cy="196.92" r="1.35"/><circle cx="449.8" cy="220.14" r="1.35"/><circle cx="449.8" cy="200.89" r="1.35"/><circle cx="449.8" cy="211.63" r="1.35"/><circle cx="449.8" cy="208.62" r="1.35"/><circle cx="449.8" cy="213.31" r="1.35"/><circle cx="449.8" cy="198.07" r="1.35"/><circle cx="449.8" cy="200.35" r="1.35"/><circle cx="449.8" cy="210.6" r="1.35"/><circle cx="449.8" cy="221.07" r="1.35"/><circle cx="449.8" cy="214.68" r="1.35"/><circle cx="449.8" cy="216.15" r="1.35"/><circle cx="449.8" cy="205.54" r="1.35"/><circle cx="449.8" cy="192.57" r="1.35"/><circle cx="449.8" cy="191.7" r="1.35"/><circle cx="449.8" cy="196.18" r="1.35"/><circle cx="449.8" cy="209.48" r="1.35"/><circle cx="449.8" cy="191.6" r="1.35"/><circle cx="449.8" cy="188.85" r="1.35"/><circle cx="449.8" cy="219.25" r="1.35"/><circle cx="449.8" cy="204.81" r="1.35"/><circle cx="449.8" cy="199.65" r="1.35"/><circle cx="449.8" cy="185.47" r="1.35"/><circle cx="449.8" cy="187.28" r="1.35"/><circle cx="449.8" cy="193.99" r="1.35"/><circle cx="449.8" cy="186.62" r="1.35"/><circle cx="449.8" cy="202.79" r="1.35"/><circle cx="449.8" cy="190.33" r="1.35"/><circle cx="449.8" cy="229.66" r="1.35"/><circle cx="449.8" cy="184.89" r="1.35"/><circle cx="449.8" cy="189.86" r="1.35"/><circle cx="449.8" cy="184.1" r="1.35"/><circle cx="449.8" cy="203.75" r="1.35"/></g>
<path d="M495,181.24L514.2,198.01M495,186.4L514.2,189.5M495,187.95L514.2,196.21M495,191.3L514.2,200.33M495,193.5L514.2,213.75M495,202.01L514.2,206.53M495,187.18L514.2,201.37" stroke="#000" stroke-width="0.5" stroke-opacity="1.0" fill="none"/>
<g fill="#c20a14"><circle cx="495" cy="181.24" r="1.35"/><circle cx="495" cy="186.4" r="1.35"/><circle cx="495" cy="187.95" r="1.35"/><circle cx="495" cy="191.3" r="1.35"/><circle cx="495" cy="193.5" r="1.35"/><circle cx="495" cy="202.01" r="1.35"/><circle cx="495" cy="187.18" r="1.35"/></g>
<g fill="#17509e"><circle cx="514.2" cy="198.01" r="1.35"/><circle cx="514.2" cy="189.5" r="1.35"/><circle cx="514.2" cy="196.21" r="1.35"/><circle cx="514.2" cy="200.33" r="1.35"/><circle cx="514.2" cy="213.75" r="1.35"/><circle cx="514.2" cy="206.53" r="1.35"/><circle cx="514.2" cy="201.37" r="1.35"/></g>
<circle cx="509.9" cy="283.2" r="1.3" fill="#cc121c"/>
<circle cx="509.9" cy="290.2" r="1.3" fill="#1b58a6"/>
</svg>
<svg class="t" width="550" height="313" viewBox="0 0 550 313">
<text x="21.9" y="28.4" font-size="5.0" text-anchor="end" fill="#2a2a2a" stroke="#2a2a2a" stroke-width="0.06" >100</text>
<text x="21.9" y="52.32" font-size="5.0" text-anchor="end" fill="#2a2a2a" stroke="#2a2a2a" stroke-width="0.06" >80</text>
<text x="21.9" y="76.24" font-size="5.0" text-anchor="end" fill="#2a2a2a" stroke="#2a2a2a" stroke-width="0.06" >60</text>
<text x="21.9" y="100.16" font-size="5.0" text-anchor="end" fill="#2a2a2a" stroke="#2a2a2a" stroke-width="0.06" >40</text>
<text x="21.9" y="124.08" font-size="5.0" text-anchor="end" fill="#2a2a2a" stroke="#2a2a2a" stroke-width="0.06" >20</text>
<text x="49.6" y="153.82" font-size="5.6" text-anchor="middle" fill="#222" stroke="#222" stroke-width="0.12" text-rendering="geometricPrecision" >TIM-3</text>
<text x="89.8" y="153.82" font-size="5.6" text-anchor="middle" fill="#222" stroke="#222" stroke-width="0.12" >PFP</text>
<text x="129" y="153.82" font-size="5.6" text-anchor="middle" fill="#222" stroke="#222" stroke-width="0.12" >GZMB</text>
<text transform="translate(11.2,80.1) rotate(-90)" font-size="6.4" text-anchor="middle" fill="#222" stroke="#222" stroke-width="0.06">(%)</text>
<text x="5" y="13.42" font-size="8.8" fill="#111" stroke="#111" stroke-width="0.1">A</text>
<text x="30" y="17.84" font-size="5.1" text-anchor="start" fill="#222" stroke="#222" stroke-width="0.08" >AML</text>
<text x="30" y="22.44" font-size="5.1" text-anchor="start" fill="#222" stroke="#222" stroke-width="0.08" >HD</text>
<text x="49.75" y="27.8" font-size="4.45" text-anchor="middle" fill="#222" stroke="#222" stroke-width="0.08" ><tspan font-style="italic">P</tspan> = 0.99</text>
<text x="89.35" y="22.8" font-size="4.45" text-anchor="middle" fill="#222" stroke="#222" stroke-width="0.08" ><tspan font-style="italic">P</tspan> = 0.43</text>
<text x="128.55" y="26.9" font-size="4.45" text-anchor="middle" fill="#222" stroke="#222" stroke-width="0.08" ><tspan font-style="italic">P</tspan> = 0.026</text>
<text transform="translate(173.9,27.87) scale(0.9,1)" font-size="6.3" text-anchor="end" fill="#2a2a2a" stroke="#2a2a2a" stroke-width="0.06" >100</text>
<text transform="translate(173.9,60.87) scale(0.9,1)" font-size="6.3" text-anchor="end" fill="#2a2a2a" stroke="#2a2a2a" stroke-width="0.06" >80</text>
<text transform="translate(173.9,93.87) scale(0.9,1)" font-size="6.3" text-anchor="end" fill="#2a2a2a" stroke="#2a2a2a" stroke-width="0.06" >60</text>
<text transform="translate(173.9,126.87) scale(0.9,1)" font-size="6.3" text-anchor="end" fill="#2a2a2a" stroke="#2a2a2a" stroke-width="0.06" >40</text>
<text transform="translate(202.3,153.53) scale(0.9,1)" font-size="6.2" text-anchor="middle" fill="#222" stroke="#222" stroke-width="0.12" text-rendering="geometricPrecision" >TIM-3</text>
<text x="209.88" y="151.48" font-size="3.844" text-anchor="start" fill="#222" stroke="#222" stroke-width="0.1" >+</text>
<text transform="translate(245.4,153.53) scale(0.9,1)" font-size="6.2" text-anchor="middle" fill="#222" stroke="#222" stroke-width="0.12" text-rendering="geometricPrecision" >TIM-3</text>
<text x="252.98" y="151.48" font-size="3.844" text-anchor="start" fill="#222" stroke="#222" stroke-width="0.1" >-</text>
<text transform="translate(161,73.5) rotate(-90)" font-size="6.4" text-anchor="middle" fill="#222" stroke="#222" stroke-width="0.06">PFP (%)</text>
<text x="156.6" y="13.22" font-size="8.8" fill="#111" stroke="#111" stroke-width="0.1">B</text>
<text x="180.2" y="18.95" font-size="6.8" text-anchor="start" fill="#222" stroke="#222" stroke-width="0.06" >AML</text>
<text x="223.6" y="19.98" font-size="5.5" text-anchor="middle" fill="#222" stroke="#222" stroke-width="0.1" ><tspan font-style="italic">P</tspan> &lt; 0.001</text>
<text transform="translate(286.8,31.07) scale(0.9,1)" font-size="6.3" text-anchor="end" fill="#2a2a2a" stroke="#2a2a2a" stroke-width="0.06" >100</text>
<text transform="translate(286.8,60.57) scale(0.9,1)" font-size="6.3" text-anchor="end" fill="#2a2a2a" stroke="#2a2a2a" stroke-width="0.06" >80</text>
<text transform="translate(286.8,90.07) scale(0.9,1)" font-size="6.3" text-anchor="end" fill="#2a2a2a" stroke="#2a2a2a" stroke-width="0.06" >60</text>
<text transform="translate(286.8,119.57) scale(0.9,1)" font-size="6.3" text-anchor="end" fill="#2a2a2a" stroke="#2a2a2a" stroke-width="0.06" >40</text>
<text transform="translate(315.5,153.43) scale(0.9,1)" font-size="6.2" text-anchor="middle" fill="#222" stroke="#222" stroke-width="0.12" text-rendering="geometricPrecision" >TIM-3</text>
<text x="323.08" y="151.38" font-size="3.844" text-anchor="start" fill="#222" stroke="#222" stroke-width="0.1" >+</text>
<text transform="translate(358.3,153.43) scale(0.9,1)" font-size="6.2" text-anchor="middle" fill="#222" stroke="#222" stroke-width="0.12" text-rendering="geometricPrecision" >TIM-3</text>
<text x="365.88" y="151.38" font-size="3.844" text-anchor="start" fill="#222" stroke="#222" stroke-width="0.1" >-</text>
<text transform="translate(274.6,72.5) rotate(-90)" font-size="6.4" text-anchor="middle" fill="#222" stroke="#222" stroke-width="0.06">PFP (%)</text>
<text x="269" y="13.42" font-size="8.8" fill="#111" stroke="#111" stroke-width="0.1">C</text>
<text x="293.8" y="19.05" font-size="6.8" text-anchor="start" fill="#222" stroke="#222" stroke-width="0.06" >HD</text>
<text x="336.35" y="19.38" font-size="5.5" text-anchor="middle" fill="#222" stroke="#222" stroke-width="0.1" ><tspan font-style="italic">P</tspan> = 0.0023</text>
<text transform="translate(397.9,28.6) scale(0.88,1)" font-size="6.4" text-anchor="end" fill="#2a2a2a" stroke="#2a2a2a" stroke-width="0.06" >100</text>
<text transform="translate(397.9,61.4) scale(0.88,1)" font-size="6.4" text-anchor="end" fill="#2a2a2a" stroke="#2a2a2a" stroke-width="0.06" >80</text>
<text transform="translate(397.9,94.2) scale(0.88,1)" font-size="6.4" text-anchor="end" fill="#2a2a2a" stroke="#2a2a2a" stroke-width="0.06" >60</text>
<text transform="translate(397.9,127) scale(0.88,1)" font-size="6.4" text-anchor="end" fill="#2a2a2a" stroke="#2a2a2a" stroke-width="0.06" >40</text>
<text x="440" y="154.42" font-size="5.9" text-anchor="middle" fill="#222" stroke="#222" stroke-width="0.03" >AML</text>
<text x="505" y="154.42" font-size="5.9" text-anchor="middle" fill="#222" stroke="#222" stroke-width="0.03" >HD</text>
<text transform="translate(386.65,72.5) rotate(-90)" font-size="6.8" text-anchor="middle" fill="#222" stroke="#222" stroke-width="0.06">PFP (%)</text>
<text x="380.4" y="13.22" font-size="8.8" fill="#111" stroke="#111" stroke-width="0.1">D</text>
<text x="440.35" y="19.88" font-size="5.5" text-anchor="middle" fill="#222" stroke="#222" stroke-width="0.1" ><tspan font-style="italic">P</tspan> &lt; 0.001</text>
<text x="504.6" y="22.48" font-size="5.5" text-anchor="middle" fill="#222" stroke="#222" stroke-width="0.1" ><tspan font-style="italic">P</tspan> = 0.016</text>
<text x="515.2" y="131.24" font-size="5.1" text-anchor="start" fill="#222" stroke="#222" stroke-width="0.04" >TIM-3</text>
<text x="528.6" y="129.45" font-size="3.2" text-anchor="start" fill="#222" stroke="#222" stroke-width="0.05" >+</text>
<text x="515.2" y="138.84" font-size="5.1" text-anchor="start" fill="#222" stroke="#222" stroke-width="0.04" >TIM-3</text>
<text x="528.6" y="137.05" font-size="3.2" text-anchor="start" fill="#222" stroke="#222" stroke-width="0.05" >-</text>
<text transform="translate(173.7,179.47) scale(0.9,1)" font-size="6.3" text-anchor="end" fill="#2a2a2a" stroke="#2a2a2a" stroke-width="0.06" >100</text>
<text transform="translate(173.7,205.47) scale(0.9,1)" font-size="6.3" text-anchor="end" fill="#2a2a2a" stroke="#2a2a2a" stroke-width="0.06" >80</text>
<text transform="translate(173.7,231.47) scale(0.9,1)" font-size="6.3" text-anchor="end" fill="#2a2a2a" stroke="#2a2a2a" stroke-width="0.06" >60</text>
<text transform="translate(173.7,257.47) scale(0.9,1)" font-size="6.3" text-anchor="end" fill="#2a2a2a" stroke="#2a2a2a" stroke-width="0.06" >40</text>
<text transform="translate(173.7,283.47) scale(0.9,1)" font-size="6.3" text-anchor="end" fill="#2a2a2a" stroke="#2a2a2a" stroke-width="0.06" >20</text>
<text transform="translate(202.3,308.33) scale(0.9,1)" font-size="6.2" text-anchor="middle" fill="#222" stroke="#222" stroke-width="0.12" text-rendering="geometricPrecision" >TIM-3</text>
<text x="209.88" y="306.28" font-size="3.844" text-anchor="start" fill="#222" stroke="#222" stroke-width="0.1" >+</text>
<text transform="translate(245.4,308.33) scale(0.9,1)" font-size="6.2" text-anchor="middle" fill="#222" stroke="#222" stroke-width="0.12" text-rendering="geometricPrecision" >TIM-3</text>
<text x="252.98" y="306.28" font-size="3.844" text-anchor="start" fill="#222" stroke="#222" stroke-width="0.1" >-</text>
<text transform="translate(162.28,229.8) rotate(-90)" font-size="6.6" text-anchor="middle" fill="#222" stroke="#222" stroke-width="0.06">GZMB (%)</text>
<text x="156.6" y="165.92" font-size="8.8" fill="#111" stroke="#111" stroke-width="0.1">E</text>
<text x="180.2" y="176.75" font-size="6.8" text-anchor="start" fill="#222" stroke="#222" stroke-width="0.06" >AML</text>
<text x="223.8" y="174.18" font-size="5.5" text-anchor="middle" fill="#222" stroke="#222" stroke-width="0.1" ><tspan font-style="italic">P</tspan> &lt; 0.001</text>
<text transform="translate(286.9,183.17) scale(0.9,1)" font-size="6.3" text-anchor="end" fill="#2a2a2a" stroke="#2a2a2a" stroke-width="0.06" >100</text>
<text transform="translate(286.9,206.97) scale(0.9,1)" font-size="6.3" text-anchor="end" fill="#2a2a2a" stroke="#2a2a2a" stroke-width="0.06" >80</text>
<text transform="translate(286.9,230.77) scale(0.9,1)" font-size="6.3" text-anchor="end" fill="#2a2a2a" stroke="#2a2a2a" stroke-width="0.06" >60</text>
<text transform="translate(286.9,254.57) scale(0.9,1)" font-size="6.3" text-anchor="end" fill="#2a2a2a" stroke="#2a2a2a" stroke-width="0.06" >40</text>
<text transform="translate(286.9,278.37) scale(0.9,1)" font-size="6.3" text-anchor="end" fill="#2a2a2a" stroke="#2a2a2a" stroke-width="0.06" >20</text>
<text transform="translate(315.5,308.53) scale(0.9,1)" font-size="6.2" text-anchor="middle" fill="#222" stroke="#222" stroke-width="0.12" text-rendering="geometricPrecision" >TIM-3</text>
<text x="323.08" y="306.48" font-size="3.844" text-anchor="start" fill="#222" stroke="#222" stroke-width="0.1" >+</text>
<text transform="translate(358.3,308.53) scale(0.9,1)" font-size="6.2" text-anchor="middle" fill="#222" stroke="#222" stroke-width="0.12" text-rendering="geometricPrecision" >TIM-3</text>
<text x="365.88" y="306.48" font-size="3.844" text-anchor="start" fill="#222" stroke="#222" stroke-width="0.1" >-</text>
<text transform="translate(275.38,230.8) rotate(-90)" font-size="6.6" text-anchor="middle" fill="#222" stroke="#222" stroke-width="0.06">GZMB (%)</text>
<text x="270.2" y="165.92" font-size="8.8" fill="#111" stroke="#111" stroke-width="0.1">F</text>
<text x="293.6" y="176.95" font-size="6.8" text-anchor="start" fill="#222" stroke="#222" stroke-width="0.06" >HD</text>
<text x="336.55" y="174.98" font-size="5.5" text-anchor="middle" fill="#222" stroke="#222" stroke-width="0.1" ><tspan font-style="italic">P</tspan> = 0.014</text>
<text transform="translate(397.8,180.37) scale(0.88,1)" font-size="6.3" text-anchor="end" fill="#2a2a2a" stroke="#2a2a2a" stroke-width="0.06" >100</text>
<text transform="translate(397.8,206.17) scale(0.88,1)" font-size="6.3" text-anchor="end" fill="#2a2a2a" stroke="#2a2a2a" stroke-width="0.06" >80</text>
<text transform="translate(397.8,231.97) scale(0.88,1)" font-size="6.3" text-anchor="end" fill="#2a2a2a" stroke="#2a2a2a" stroke-width="0.06" >60</text>
<text transform="translate(397.8,257.77) scale(0.88,1)" font-size="6.3" text-anchor="end" fill="#2a2a2a" stroke="#2a2a2a" stroke-width="0.06" >40</text>
<text transform="translate(397.8,283.57) scale(0.88,1)" font-size="6.3" text-anchor="end" fill="#2a2a2a" stroke="#2a2a2a" stroke-width="0.06" >20</text>
<text x="440" y="308.82" font-size="5.9" text-anchor="middle" fill="#222" stroke="#222" stroke-width="0.03" >AML</text>
<text x="505" y="308.82" font-size="5.9" text-anchor="middle" fill="#222" stroke="#222" stroke-width="0.03" >HD</text>
<text transform="translate(386.81,229.7) rotate(-90)" font-size="6.7" text-anchor="middle" fill="#222" stroke="#222" stroke-width="0.06">GZMB (%)</text>
<text x="381.2" y="166.02" font-size="8.8" fill="#111" stroke="#111" stroke-width="0.1">G</text>
<text x="439.85" y="175.08" font-size="5.5" text-anchor="middle" fill="#222" stroke="#222" stroke-width="0.1" ><tspan font-style="italic">P</tspan> &lt; 0.001</text>
<text x="504.6" y="175.38" font-size="5.5" text-anchor="middle" fill="#222" stroke="#222" stroke-width="0.1" ><tspan font-style="italic">P</tspan> = 0.016</text>
<text x="513.4" y="285.04" font-size="5.1" text-anchor="start" fill="#222" stroke="#222" stroke-width="0.04" >TIM-3</text>
<text x="526.8" y="283.25" font-size="3.2" text-anchor="start" fill="#222" stroke="#222" stroke-width="0.05" >+</text>
<text x="513.4" y="292.04" font-size="5.1" text-anchor="start" fill="#222" stroke="#222" stroke-width="0.04" >TIM-3</text>
<text x="526.8" y="290.25" font-size="3.2" text-anchor="start" fill="#222" stroke="#222" stroke-width="0.05" >-</text>
</svg></div></body></html>
